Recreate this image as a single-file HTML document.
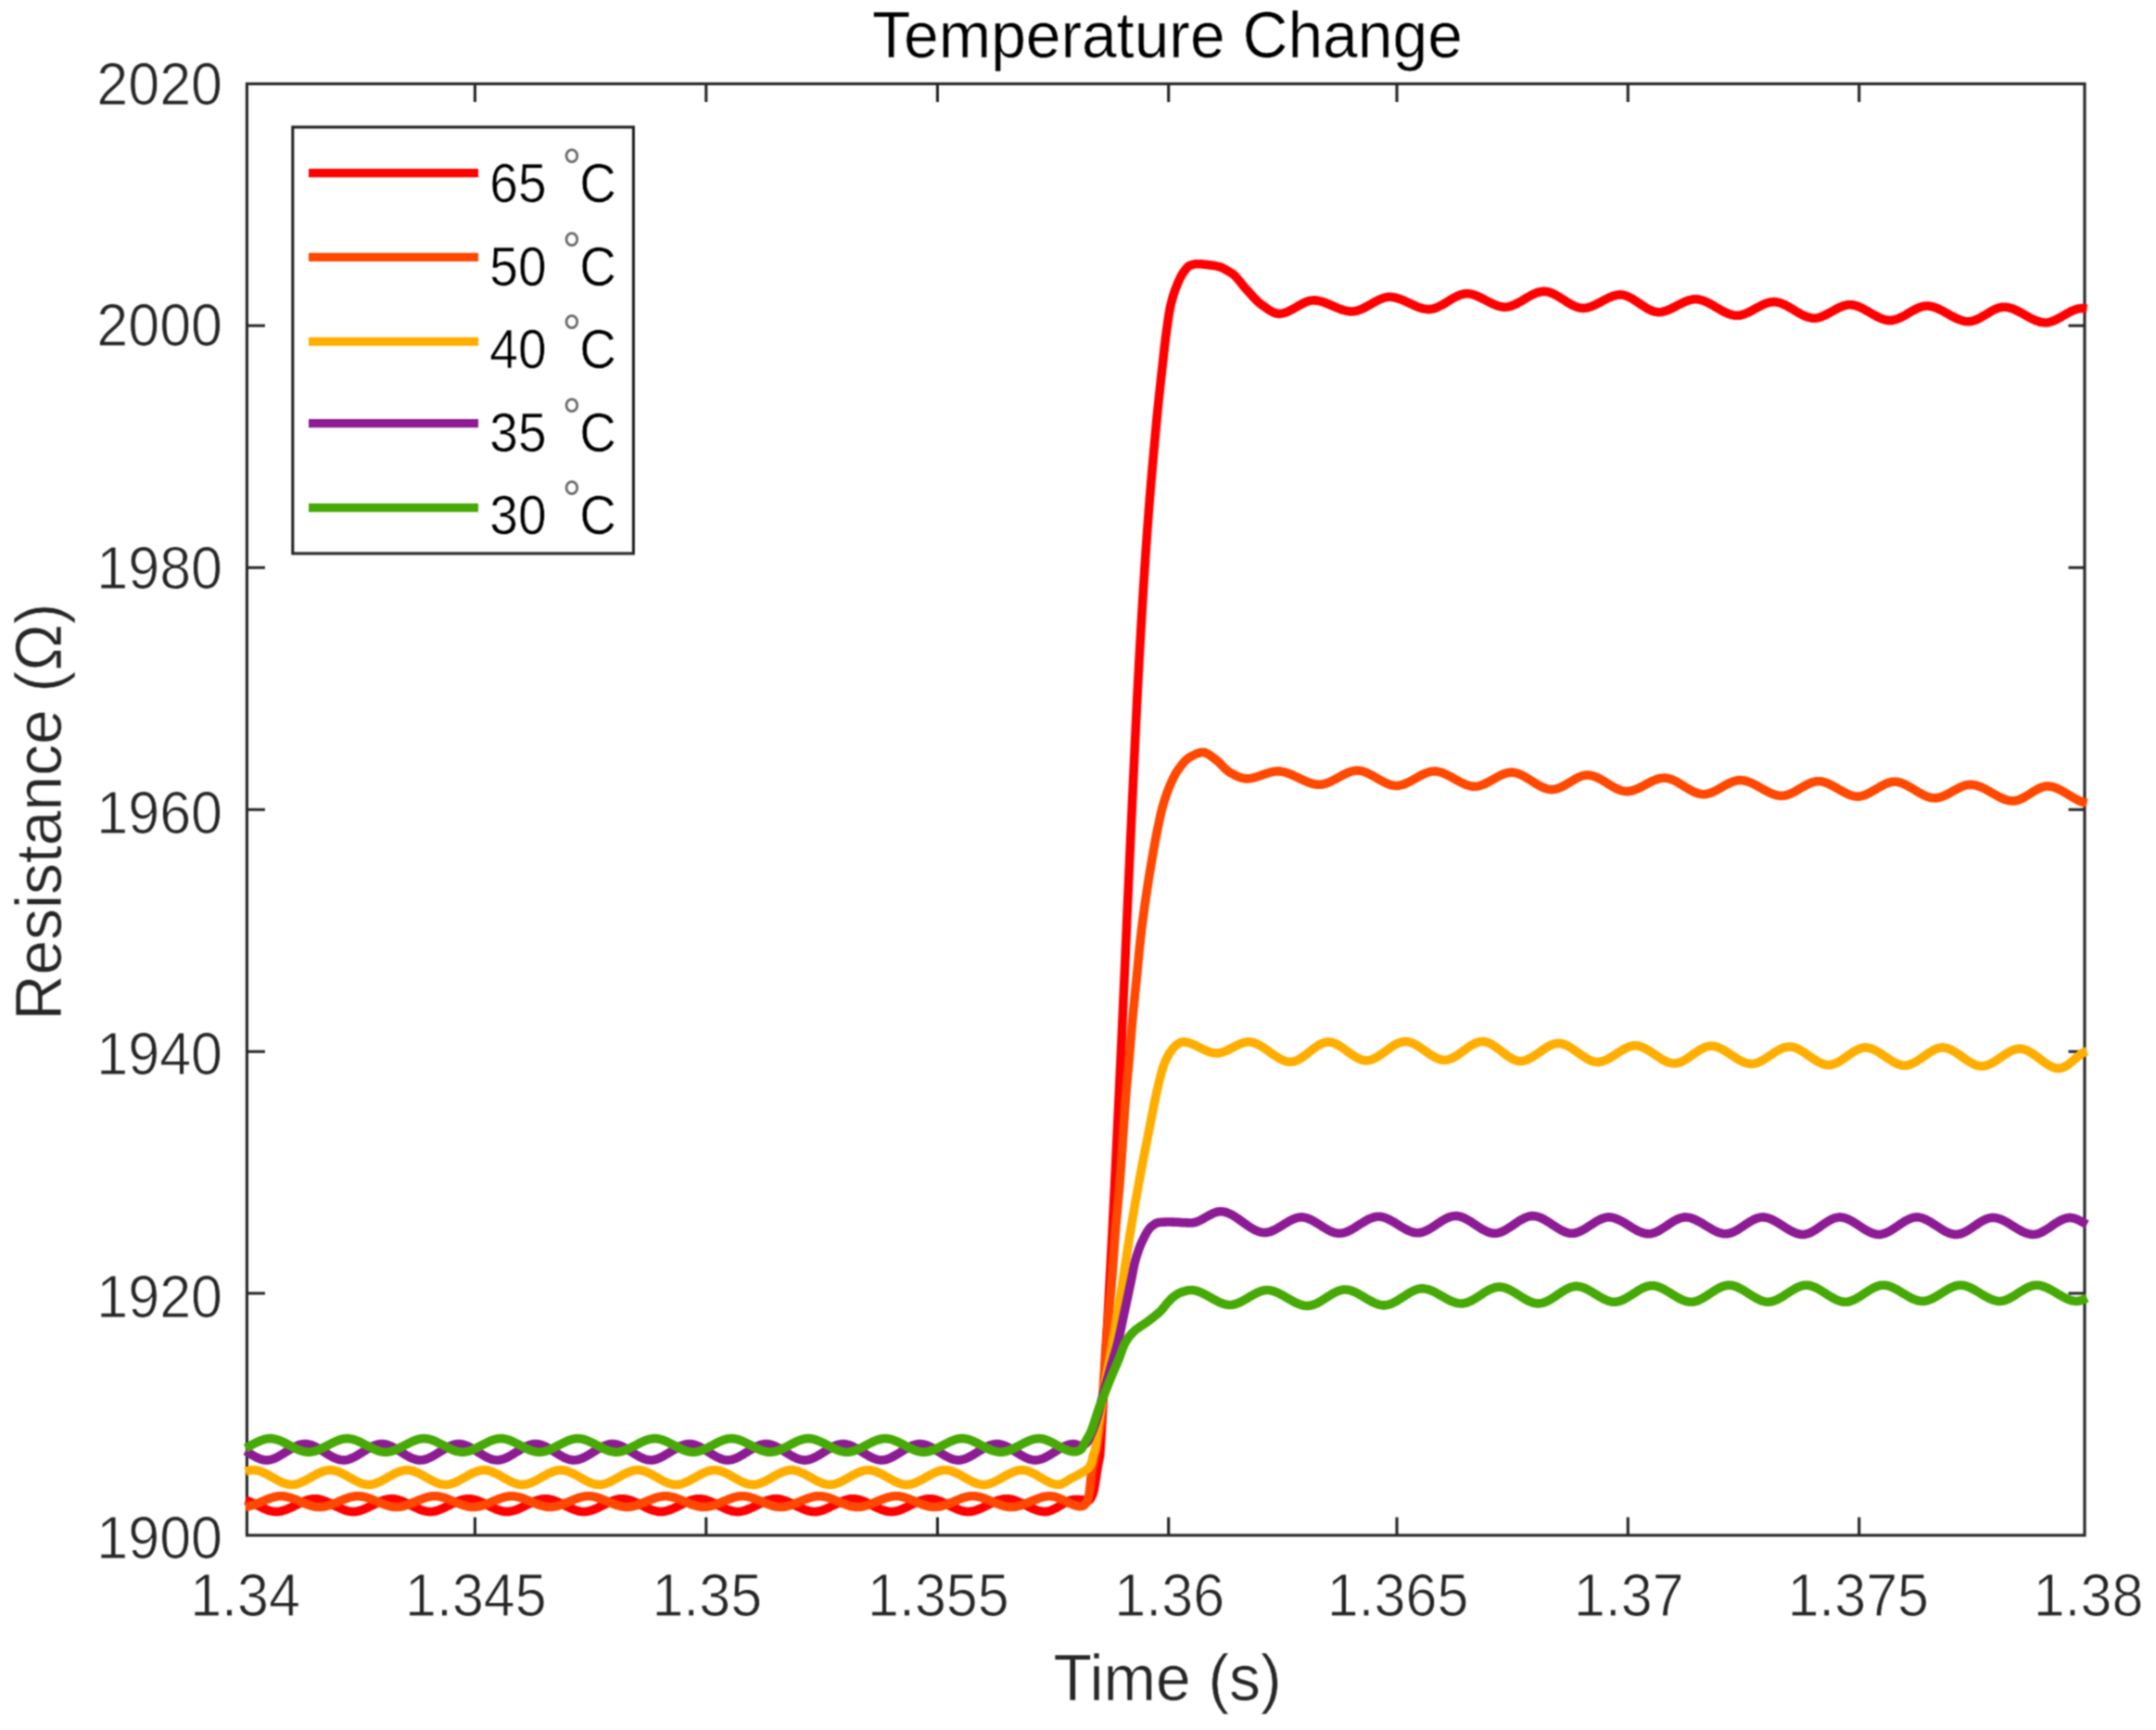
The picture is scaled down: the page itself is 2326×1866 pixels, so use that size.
<!DOCTYPE html>
<html lang="en"><head><meta charset="utf-8"><title>Temperature Change</title>
<style>
html,body{margin:0;padding:0;background:#fff;}
body{width:2326px;height:1866px;overflow:hidden;}
svg{display:block;}
text{font-family:"Liberation Sans",Arial,Helvetica,sans-serif;fill:#262626;stroke:#fff;stroke-width:0.9px;}
.tk{font-size:61px;}
.lb{font-size:67.8px;stroke-width:0.6px;}
.lg{font-size:55px;fill:#000;stroke-width:0.6px;}
.dg{font-size:52px;fill:#6a6a6a;stroke:none;}
</style></head><body>
<svg width="2326" height="1866" viewBox="0 0 2326 1866">
<defs><filter id="soft" x="0" y="0" width="2326" height="1866" filterUnits="userSpaceOnUse" color-interpolation-filters="sRGB"><feConvolveMatrix order="3" kernelMatrix="1 2 1 2 4 2 1 2 1" divisor="16" edgeMode="duplicate" preserveAlpha="false"/></filter></defs>
<g filter="url(#soft)">
<rect width="2326" height="1866" fill="#fff"/>
<g stroke="#262626" stroke-width="3.1" fill="none" stroke-linecap="butt">
<rect x="266.4" y="90.4" width="1982.6" height="1565.6"/>
<path d="M512.4,1656.0 v-19.5 M512.4,90.4 v19.5"/>
<path d="M761.8,1656.0 v-19.5 M761.8,90.4 v19.5"/>
<path d="M1011.4,1656.0 v-19.5 M1011.4,90.4 v19.5"/>
<path d="M1260.7,1656.0 v-19.5 M1260.7,90.4 v19.5"/>
<path d="M1507.0,1656.0 v-19.5 M1507.0,90.4 v19.5"/>
<path d="M1756.3,1656.0 v-19.5 M1756.3,90.4 v19.5"/>
<path d="M2005.7,1656.0 v-19.5 M2005.7,90.4 v19.5"/>
<path d="M266.4,351.3 h19.5 M2249.0,351.3 h-17.5"/>
<path d="M266.4,612.3 h19.5 M2249.0,612.3 h-17.5"/>
<path d="M266.4,873.3 h19.5 M2249.0,873.3 h-17.5"/>
<path d="M266.4,1134.2 h19.5 M2249.0,1134.2 h-17.5"/>
<path d="M266.4,1395.0 h19.5 M2249.0,1395.0 h-17.5"/>
</g>
<g fill="none" stroke-width="9.6" stroke-linejoin="round" stroke-linecap="butt">
<path stroke="#ff0000" d="M264.9,1618.1 L266.9,1618.8 L268.9,1619.6 L270.9,1620.5 L272.9,1621.4 L274.9,1622.4 L276.9,1623.3 L278.9,1624.3 L280.9,1625.3 L282.9,1626.3 L284.9,1627.2 L286.9,1628.0 L288.9,1628.8 L290.9,1629.4 L292.9,1629.9 L294.9,1630.3 L296.9,1630.5 L298.9,1630.5 L300.9,1630.3 L302.9,1630.0 L304.9,1629.5 L306.9,1628.9 L308.9,1628.2 L310.9,1627.4 L312.9,1626.5 L314.9,1625.6 L316.9,1624.6 L318.9,1623.6 L320.9,1622.6 L322.9,1621.6 L324.9,1620.7 L326.9,1619.8 L328.9,1619.0 L330.9,1618.3 L332.9,1617.7 L334.9,1617.2 L336.9,1616.9 L338.9,1616.7 L340.9,1616.7 L342.9,1616.9 L344.9,1617.3 L346.9,1617.8 L348.9,1618.5 L350.9,1619.2 L352.9,1620.0 L354.9,1621.0 L356.9,1621.9 L358.9,1622.9 L360.9,1623.9 L362.9,1624.9 L364.9,1625.8 L366.9,1626.8 L368.9,1627.6 L370.9,1628.4 L372.9,1629.1 L374.9,1629.7 L376.9,1630.1 L378.9,1630.4 L380.9,1630.5 L382.9,1630.4 L384.9,1630.2 L386.9,1629.8 L388.9,1629.2 L390.9,1628.5 L392.9,1627.8 L394.9,1626.9 L396.9,1626.0 L398.9,1625.0 L400.9,1624.0 L402.9,1623.1 L404.9,1622.1 L406.9,1621.1 L408.9,1620.2 L410.9,1619.3 L412.9,1618.6 L414.9,1617.9 L416.9,1617.4 L418.9,1617.0 L420.9,1616.8 L422.9,1616.7 L424.9,1616.8 L426.9,1617.1 L428.9,1617.6 L430.9,1618.2 L432.9,1618.9 L434.9,1619.7 L436.9,1620.5 L438.9,1621.5 L440.9,1622.4 L442.9,1623.4 L444.9,1624.4 L446.9,1625.4 L448.9,1626.3 L450.9,1627.2 L452.9,1628.1 L454.9,1628.8 L456.9,1629.4 L458.9,1629.9 L460.9,1630.3 L462.9,1630.5 L464.9,1630.5 L466.9,1630.3 L468.9,1630.0 L470.9,1629.5 L472.9,1628.9 L474.9,1628.1 L476.9,1627.3 L478.9,1626.4 L480.9,1625.5 L482.9,1624.5 L484.9,1623.5 L486.9,1622.5 L488.9,1621.5 L490.9,1620.6 L492.9,1619.7 L494.9,1618.9 L496.9,1618.2 L498.9,1617.6 L500.9,1617.2 L502.9,1616.9 L504.9,1616.7 L506.9,1616.7 L508.9,1617.0 L510.9,1617.4 L512.9,1617.9 L514.9,1618.5 L516.9,1619.3 L518.9,1620.1 L520.9,1621.0 L522.9,1622.0 L524.9,1623.0 L526.9,1624.0 L528.9,1624.9 L530.9,1625.9 L532.9,1626.8 L534.9,1627.7 L536.9,1628.5 L538.9,1629.1 L540.9,1629.7 L542.9,1630.1 L544.9,1630.4 L546.9,1630.5 L548.9,1630.4 L550.9,1630.1 L552.9,1629.7 L554.9,1629.2 L556.9,1628.5 L558.9,1627.7 L560.9,1626.9 L562.9,1625.9 L564.9,1625.0 L566.9,1624.0 L568.9,1623.0 L570.9,1622.0 L572.9,1621.0 L574.9,1620.1 L576.9,1619.3 L578.9,1618.5 L580.9,1617.9 L582.9,1617.4 L584.9,1617.0 L586.9,1616.8 L588.9,1616.7 L590.9,1616.8 L592.9,1617.2 L594.9,1617.6 L596.9,1618.2 L598.9,1618.9 L600.9,1619.7 L602.9,1620.6 L604.9,1621.5 L606.9,1622.5 L608.9,1623.5 L610.9,1624.5 L612.9,1625.5 L614.9,1626.4 L616.9,1627.3 L618.9,1628.1 L620.9,1628.8 L622.9,1629.5 L624.9,1630.0 L626.9,1630.3 L628.9,1630.5 L630.9,1630.5 L632.9,1630.3 L634.9,1629.9 L636.9,1629.4 L638.9,1628.8 L640.9,1628.1 L642.9,1627.3 L644.9,1626.4 L646.9,1625.4 L648.9,1624.4 L650.9,1623.4 L652.9,1622.5 L654.9,1621.5 L656.9,1620.5 L658.9,1619.7 L660.9,1618.9 L662.9,1618.2 L664.9,1617.6 L666.9,1617.1 L668.9,1616.8 L670.9,1616.7 L672.9,1616.8 L674.9,1617.0 L676.9,1617.4 L678.9,1617.9 L680.9,1618.6 L682.9,1619.3 L684.9,1620.2 L686.9,1621.1 L688.9,1622.0 L690.9,1623.0 L692.9,1624.0 L694.9,1625.0 L696.9,1626.0 L698.9,1626.9 L700.9,1627.7 L702.9,1628.5 L704.9,1629.2 L706.9,1629.7 L708.9,1630.2 L710.9,1630.4 L712.9,1630.5 L714.9,1630.4 L716.9,1630.1 L718.9,1629.7 L720.9,1629.1 L722.9,1628.4 L724.9,1627.7 L726.9,1626.8 L728.9,1625.9 L730.9,1624.9 L732.9,1623.9 L734.9,1622.9 L736.9,1621.9 L738.9,1621.0 L740.9,1620.1 L742.9,1619.2 L744.9,1618.5 L746.9,1617.8 L748.9,1617.3 L750.9,1617.0 L752.9,1616.7 L754.9,1616.7 L756.9,1616.9 L758.9,1617.2 L760.9,1617.7 L762.9,1618.3 L764.9,1619.0 L766.9,1619.8 L768.9,1620.7 L770.9,1621.6 L772.9,1622.6 L774.9,1623.6 L776.9,1624.6 L778.9,1625.5 L780.9,1626.5 L782.9,1627.4 L784.9,1628.2 L786.9,1628.9 L788.9,1629.5 L790.9,1630.0 L792.9,1630.3 L794.9,1630.5 L796.9,1630.5 L798.9,1630.3 L800.9,1629.9 L802.9,1629.4 L804.9,1628.8 L806.9,1628.0 L808.9,1627.2 L810.9,1626.3 L812.9,1625.4 L814.9,1624.4 L816.9,1623.4 L818.9,1622.4 L820.9,1621.4 L822.9,1620.5 L824.9,1619.6 L826.9,1618.8 L828.9,1618.1 L830.9,1617.6 L832.9,1617.1 L834.9,1616.8 L836.9,1616.7 L838.9,1616.8 L840.9,1617.0 L842.9,1617.4 L844.9,1618.0 L846.9,1618.6 L848.9,1619.4 L850.9,1620.2 L852.9,1621.1 L854.9,1622.1 L856.9,1623.1 L858.9,1624.1 L860.9,1625.1 L862.9,1626.0 L864.9,1627.0 L866.9,1627.8 L868.9,1628.6 L870.9,1629.2 L872.9,1629.8 L874.9,1630.2 L876.9,1630.4 L878.9,1630.5 L880.9,1630.4 L882.9,1630.1 L884.9,1629.7 L886.9,1629.1 L888.9,1628.4 L890.9,1627.6 L892.9,1626.7 L894.9,1625.8 L896.9,1624.8 L898.9,1623.8 L900.9,1622.8 L902.9,1621.9 L904.9,1620.9 L906.9,1620.0 L908.9,1619.2 L910.9,1618.4 L912.9,1617.8 L914.9,1617.3 L916.9,1616.9 L918.9,1616.7 L920.9,1616.7 L922.9,1616.9 L924.9,1617.2 L926.9,1617.7 L928.9,1618.3 L930.9,1619.0 L932.9,1619.8 L934.9,1620.7 L936.9,1621.7 L938.9,1622.6 L940.9,1623.6 L942.9,1624.6 L944.9,1625.6 L946.9,1626.5 L948.9,1627.4 L950.9,1628.2 L952.9,1628.9 L954.9,1629.5 L956.9,1630.0 L958.9,1630.3 L960.9,1630.5 L962.9,1630.5 L964.9,1630.2 L966.9,1629.9 L968.9,1629.4 L970.9,1628.7 L972.9,1628.0 L974.9,1627.1 L976.9,1626.2 L978.9,1625.3 L980.9,1624.3 L982.9,1623.3 L984.9,1622.3 L986.9,1621.3 L988.9,1620.4 L990.9,1619.6 L992.9,1618.8 L994.9,1618.1 L996.9,1617.5 L998.9,1617.1 L1000.9,1616.8 L1002.9,1616.7 L1004.9,1616.8 L1006.9,1617.0 L1008.9,1617.4 L1010.9,1618.0 L1012.9,1618.7 L1014.9,1619.4 L1016.9,1620.3 L1018.9,1621.2 L1020.9,1622.2 L1022.9,1623.2 L1024.9,1624.2 L1026.9,1625.1 L1028.9,1626.1 L1030.9,1627.0 L1032.9,1627.9 L1034.9,1628.6 L1036.9,1629.3 L1038.9,1629.8 L1040.9,1630.2 L1042.9,1630.4 L1044.9,1630.5 L1046.9,1630.4 L1048.9,1630.1 L1050.9,1629.6 L1052.9,1629.0 L1054.9,1628.3 L1056.9,1627.5 L1058.9,1626.7 L1060.9,1625.7 L1062.9,1624.8 L1064.9,1623.8 L1066.9,1622.8 L1068.9,1621.8 L1070.9,1620.8 L1072.9,1619.9 L1074.9,1619.1 L1076.9,1618.4 L1078.9,1617.8 L1080.9,1617.3 L1082.9,1616.9 L1084.9,1616.7 L1086.9,1616.7 L1088.9,1616.9 L1090.9,1617.2 L1092.9,1617.7 L1094.9,1618.3 L1096.9,1619.1 L1098.9,1619.9 L1100.9,1620.8 L1102.9,1621.7 L1104.9,1622.7 L1106.9,1623.7 L1108.9,1624.7 L1110.9,1625.7 L1112.9,1626.6 L1114.9,1627.5 L1116.9,1628.3 L1118.9,1629.0 L1120.9,1629.6 L1122.9,1630.0 L1124.9,1630.4 L1126.9,1630.5 L1128.9,1630.4 L1130.9,1630.1 L1132.9,1629.5 L1134.9,1628.8 L1136.9,1627.8 L1138.9,1626.8 L1140.9,1625.7 L1142.9,1624.5 L1144.9,1623.3 L1146.9,1622.1 L1148.9,1621.0 L1150.0,1620.4 L1150.5,1620.2 L1151.0,1619.9 L1151.5,1619.7 L1152.0,1619.5 L1152.5,1619.3 L1153.0,1619.0 L1153.5,1618.8 L1154.0,1618.7 L1154.5,1618.5 L1155.0,1618.3 L1155.5,1618.2 L1156.0,1618.0 L1156.5,1617.9 L1157.0,1617.8 L1157.5,1617.7 L1158.0,1617.6 L1158.5,1617.6 L1159.0,1617.5 L1159.5,1617.5 L1160.0,1617.5 L1160.5,1617.5 L1161.0,1617.5 L1161.5,1617.5 L1162.0,1617.5 L1162.5,1617.5 L1163.0,1617.6 L1163.5,1617.6 L1164.0,1617.6 L1164.5,1617.6 L1165.0,1617.6 L1165.5,1617.7 L1166.0,1617.7 L1166.5,1617.7 L1167.0,1617.7 L1167.5,1617.8 L1168.0,1617.8 L1168.5,1617.8 L1169.0,1617.9 L1169.5,1618.0 L1170.0,1618.0 L1170.5,1618.1 L1171.0,1618.2 L1171.5,1618.3 L1172.0,1618.3 L1172.5,1618.4 L1173.0,1618.5 L1173.5,1618.5 L1174.0,1618.5 L1174.5,1618.4 L1175.0,1618.1 L1175.5,1617.7 L1176.0,1617.1 L1176.5,1616.4 L1177.0,1615.6 L1177.5,1614.7 L1178.0,1613.7 L1178.5,1612.6 L1179.0,1611.4 L1179.5,1610.0 L1180.0,1607.7 L1180.5,1605.1 L1181.0,1602.4 L1181.5,1599.6 L1182.0,1596.5 L1182.5,1593.3 L1183.0,1590.2 L1183.5,1587.1 L1184.0,1583.9 L1184.5,1580.9 L1185.0,1578.0 L1185.5,1575.7 L1186.0,1573.6 L1186.5,1570.7 L1187.0,1565.1 L1187.5,1556.6 L1188.0,1548.5 L1188.5,1540.1 L1189.0,1531.5 L1189.5,1522.5 L1190.0,1513.5 L1190.5,1504.9 L1191.0,1496.7 L1191.5,1488.6 L1192.0,1480.0 L1192.5,1470.8 L1193.0,1461.2 L1193.5,1451.5 L1194.0,1441.9 L1194.5,1432.5 L1195.0,1423.2 L1195.5,1414.0 L1196.0,1404.8 L1196.5,1395.6 L1197.0,1386.3 L1197.5,1377.0 L1198.0,1367.7 L1198.5,1358.4 L1199.0,1349.1 L1199.5,1339.6 L1200.0,1330.0 L1200.5,1320.3 L1201.0,1310.4 L1201.5,1300.4 L1202.0,1290.3 L1202.5,1280.2 L1203.0,1270.0 L1203.5,1259.7 L1204.0,1249.4 L1204.5,1239.0 L1205.0,1228.6 L1205.5,1218.1 L1206.0,1207.6 L1206.5,1197.0 L1207.0,1186.4 L1207.5,1175.7 L1208.0,1165.1 L1208.5,1154.3 L1209.0,1143.5 L1209.5,1132.7 L1210.0,1121.9 L1210.5,1110.9 L1211.0,1100.0 L1211.5,1089.0 L1212.0,1078.0 L1212.5,1066.9 L1213.0,1055.8 L1213.5,1044.5 L1214.0,1033.2 L1214.5,1021.6 L1215.0,1010.0 L1215.5,998.4 L1216.0,986.8 L1216.5,975.5 L1217.0,964.2 L1217.5,953.1 L1218.0,942.0 L1218.5,931.0 L1219.0,920.0 L1219.5,909.1 L1220.0,898.2 L1220.5,887.4 L1221.0,876.6 L1221.5,865.8 L1222.0,855.1 L1222.5,844.3 L1223.0,833.5 L1223.5,822.7 L1224.0,812.0 L1224.5,801.3 L1225.0,790.8 L1225.5,780.4 L1226.0,770.1 L1226.5,759.9 L1227.0,750.0 L1227.5,740.3 L1228.0,730.8 L1228.5,721.4 L1229.0,712.2 L1229.5,703.2 L1230.0,694.3 L1230.5,685.5 L1231.0,676.9 L1231.5,668.4 L1232.0,660.0 L1232.5,651.8 L1233.0,643.6 L1233.5,635.6 L1234.0,627.8 L1234.5,620.0 L1235.0,612.3 L1235.5,604.8 L1236.0,597.3 L1236.5,590.0 L1237.0,582.8 L1237.5,575.8 L1238.0,568.9 L1238.5,562.1 L1239.0,555.5 L1239.5,548.9 L1240.0,542.5 L1240.5,536.2 L1241.0,530.1 L1241.5,524.1 L1242.0,518.2 L1242.5,512.5 L1243.0,506.8 L1243.5,501.2 L1244.0,495.6 L1244.5,490.0 L1245.0,484.5 L1245.5,478.9 L1246.0,473.4 L1246.5,468.0 L1247.0,462.6 L1247.5,457.3 L1248.0,452.1 L1248.5,447.0 L1249.0,442.0 L1249.5,437.1 L1250.0,432.3 L1250.5,427.5 L1251.0,422.8 L1251.5,418.2 L1252.0,413.6 L1252.5,409.0 L1253.0,404.5 L1253.5,400.0 L1254.0,395.5 L1254.5,390.9 L1255.0,386.3 L1255.5,381.7 L1256.0,377.3 L1256.5,372.9 L1257.0,368.7 L1257.5,364.6 L1258.0,360.7 L1258.5,357.1 L1259.0,353.4 L1259.5,349.8 L1260.0,346.3 L1260.5,342.9 L1261.0,339.7 L1261.5,336.7 L1262.0,333.9 L1262.5,331.4 L1263.0,329.1 L1263.5,327.1 L1264.0,325.1 L1264.5,323.2 L1265.0,321.4 L1265.5,319.7 L1266.0,318.1 L1266.5,316.5 L1267.0,315.0 L1267.5,313.6 L1268.0,312.2 L1268.5,310.9 L1269.0,309.6 L1269.5,308.3 L1270.0,307.1 L1270.5,305.9 L1271.0,304.7 L1271.5,303.6 L1272.0,302.4 L1272.5,301.3 L1273.0,300.3 L1273.5,299.3 L1274.0,298.3 L1274.5,297.4 L1275.0,296.5 L1275.5,295.6 L1276.0,294.9 L1276.5,294.1 L1277.0,293.4 L1277.5,292.8 L1278.0,292.1 L1278.5,291.4 L1279.0,290.8 L1279.5,290.1 L1280.0,289.5 L1280.5,289.0 L1281.0,288.4 L1281.5,287.9 L1282.0,287.5 L1282.5,287.1 L1283.0,286.7 L1283.5,286.5 L1284.0,286.2 L1284.5,286.1 L1285.0,285.9 L1285.5,285.8 L1286.0,285.6 L1286.5,285.5 L1287.0,285.3 L1287.5,285.2 L1288.0,285.1 L1288.5,285.0 L1289.0,284.9 L1289.5,284.8 L1290.0,284.8 L1290.5,284.7 L1291.0,284.7 L1291.5,284.7 L1292.0,284.7 L1292.5,284.7 L1293.0,284.7 L1293.5,284.7 L1294.0,284.8 L1294.5,284.8 L1295.0,284.8 L1295.5,284.8 L1296.0,284.9 L1296.5,284.9 L1297.0,284.9 L1297.5,285.0 L1298.0,285.0 L1298.5,285.1 L1299.0,285.1 L1299.5,285.2 L1300.0,285.2 L1302.0,285.4 L1304.0,285.7 L1306.0,285.9 L1308.0,286.2 L1310.0,286.5 L1312.0,286.9 L1314.0,287.4 L1316.0,287.9 L1318.0,288.6 L1320.0,289.6 L1322.0,290.7 L1324.0,291.9 L1326.0,293.0 L1328.0,294.1 L1330.0,295.5 L1332.0,297.2 L1334.0,299.3 L1336.0,301.6 L1338.0,304.0 L1340.0,306.6 L1342.0,309.1 L1344.0,311.4 L1346.0,313.6 L1348.0,315.8 L1350.0,318.0 L1352.0,320.2 L1354.0,322.4 L1356.0,324.4 L1358.0,326.2 L1360.0,327.9 L1362.0,329.3 L1364.0,330.7 L1366.0,332.2 L1368.0,333.6 L1370.0,334.9 L1372.0,336.0 L1374.0,337.0 L1376.0,337.8 L1378.0,338.2 L1380.0,338.4 L1382.0,338.3 L1384.0,337.9 L1386.0,337.4 L1388.0,336.7 L1390.0,335.8 L1392.0,334.8 L1394.0,333.8 L1396.0,332.7 L1398.0,331.5 L1400.0,330.3 L1402.0,329.2 L1404.0,328.1 L1406.0,327.1 L1408.0,326.1 L1410.0,325.3 L1412.0,324.7 L1414.0,324.2 L1416.0,324.0 L1418.0,323.9 L1420.0,324.1 L1422.0,324.3 L1424.0,324.8 L1426.0,325.3 L1428.0,325.9 L1430.0,326.7 L1432.0,327.5 L1434.0,328.3 L1436.0,329.2 L1438.0,330.0 L1440.0,330.9 L1442.0,331.8 L1444.0,332.6 L1446.0,333.4 L1448.0,334.1 L1450.0,334.7 L1452.0,335.2 L1454.0,335.6 L1456.0,335.9 L1458.0,336.0 L1460.0,335.9 L1462.0,335.6 L1464.0,335.2 L1466.0,334.5 L1468.0,333.8 L1470.0,332.9 L1472.0,331.9 L1474.0,330.9 L1476.0,329.7 L1478.0,328.6 L1480.0,327.5 L1482.0,326.3 L1484.0,325.2 L1486.0,324.2 L1488.0,323.2 L1490.0,322.4 L1492.0,321.6 L1494.0,321.0 L1496.0,320.6 L1498.0,320.3 L1500.0,320.3 L1502.0,320.5 L1504.0,320.8 L1506.0,321.2 L1508.0,321.8 L1510.0,322.4 L1512.0,323.2 L1514.0,324.0 L1516.0,324.9 L1518.0,325.8 L1520.0,326.8 L1522.0,327.7 L1524.0,328.6 L1526.0,329.5 L1528.0,330.4 L1530.0,331.2 L1532.0,331.9 L1534.0,332.5 L1536.0,333.0 L1538.0,333.3 L1540.0,333.6 L1542.0,333.6 L1544.0,333.4 L1546.0,333.0 L1548.0,332.5 L1550.0,331.7 L1552.0,330.8 L1554.0,329.8 L1556.0,328.8 L1558.0,327.6 L1560.0,326.4 L1562.0,325.2 L1564.0,323.9 L1566.0,322.7 L1568.0,321.5 L1570.0,320.5 L1572.0,319.5 L1574.0,318.6 L1576.0,317.8 L1578.0,317.3 L1580.0,316.9 L1582.0,316.7 L1584.0,316.8 L1586.0,317.0 L1588.0,317.4 L1590.0,318.0 L1592.0,318.7 L1594.0,319.5 L1596.0,320.4 L1598.0,321.4 L1600.0,322.4 L1602.0,323.4 L1604.0,324.5 L1606.0,325.5 L1608.0,326.5 L1610.0,327.5 L1612.0,328.4 L1614.0,329.2 L1616.0,329.9 L1618.0,330.5 L1620.0,330.9 L1622.0,331.1 L1624.0,331.2 L1626.0,331.0 L1628.0,330.7 L1630.0,330.1 L1632.0,329.4 L1634.0,328.6 L1636.0,327.6 L1638.0,326.6 L1640.0,325.5 L1642.0,324.3 L1644.0,323.1 L1646.0,321.9 L1648.0,320.7 L1650.0,319.6 L1652.0,318.5 L1654.0,317.5 L1656.0,316.6 L1658.0,315.8 L1660.0,315.1 L1662.0,314.7 L1664.0,314.4 L1666.0,314.3 L1668.0,314.5 L1670.0,314.8 L1672.0,315.4 L1674.0,316.1 L1676.0,317.0 L1678.0,318.0 L1680.0,319.1 L1682.0,320.3 L1684.0,321.6 L1686.0,322.8 L1688.0,324.1 L1690.0,325.4 L1692.0,326.6 L1694.0,327.8 L1696.0,328.9 L1698.0,329.9 L1700.0,330.7 L1702.0,331.4 L1704.0,332.0 L1706.0,332.3 L1708.0,332.4 L1710.0,332.3 L1712.0,332.0 L1714.0,331.5 L1716.0,330.9 L1718.0,330.1 L1720.0,329.2 L1722.0,328.3 L1724.0,327.3 L1726.0,326.2 L1728.0,325.1 L1730.0,324.0 L1732.0,323.0 L1734.0,322.0 L1736.0,321.0 L1738.0,320.2 L1740.0,319.4 L1742.0,318.8 L1744.0,318.3 L1746.0,318.0 L1748.0,317.9 L1750.0,318.0 L1752.0,318.4 L1754.0,319.0 L1756.0,319.7 L1758.0,320.7 L1760.0,321.7 L1762.0,322.9 L1764.0,324.2 L1766.0,325.5 L1768.0,326.8 L1770.0,328.2 L1772.0,329.5 L1774.0,330.8 L1776.0,332.1 L1778.0,333.2 L1780.0,334.2 L1782.0,335.1 L1784.0,335.8 L1786.0,336.3 L1788.0,336.6 L1790.0,336.7 L1792.0,336.5 L1794.0,336.2 L1796.0,335.7 L1798.0,335.0 L1800.0,334.2 L1802.0,333.4 L1804.0,332.4 L1806.0,331.4 L1808.0,330.4 L1810.0,329.3 L1812.0,328.3 L1814.0,327.3 L1816.0,326.3 L1818.0,325.4 L1820.0,324.6 L1822.0,323.9 L1824.0,323.4 L1826.0,323.0 L1828.0,322.7 L1830.0,322.7 L1832.0,322.9 L1834.0,323.3 L1836.0,323.8 L1838.0,324.5 L1840.0,325.3 L1842.0,326.2 L1844.0,327.2 L1846.0,328.3 L1848.0,329.4 L1850.0,330.6 L1852.0,331.8 L1854.0,332.9 L1856.0,334.1 L1858.0,335.2 L1860.0,336.3 L1862.0,337.2 L1864.0,338.1 L1866.0,338.8 L1868.0,339.5 L1870.0,339.9 L1872.0,340.2 L1874.0,340.3 L1876.0,340.2 L1878.0,339.9 L1880.0,339.4 L1882.0,338.7 L1884.0,337.9 L1886.0,337.1 L1888.0,336.1 L1890.0,335.0 L1892.0,333.9 L1894.0,332.8 L1896.0,331.7 L1898.0,330.7 L1900.0,329.6 L1902.0,328.7 L1904.0,327.8 L1906.0,327.0 L1908.0,326.4 L1910.0,326.0 L1912.0,325.7 L1914.0,325.6 L1916.0,325.7 L1918.0,326.1 L1920.0,326.6 L1922.0,327.3 L1924.0,328.1 L1926.0,329.0 L1928.0,330.1 L1930.0,331.2 L1932.0,332.3 L1934.0,333.5 L1936.0,334.8 L1938.0,336.0 L1940.0,337.2 L1942.0,338.3 L1944.0,339.4 L1946.0,340.3 L1948.0,341.2 L1950.0,341.9 L1952.0,342.5 L1954.0,342.9 L1956.0,343.2 L1958.0,343.2 L1960.0,343.0 L1962.0,342.6 L1964.0,342.0 L1966.0,341.2 L1968.0,340.4 L1970.0,339.4 L1972.0,338.4 L1974.0,337.3 L1976.0,336.2 L1978.0,335.1 L1980.0,333.9 L1982.0,332.9 L1984.0,331.9 L1986.0,331.0 L1988.0,330.2 L1990.0,329.6 L1992.0,329.1 L1994.0,328.8 L1996.0,328.7 L1998.0,328.8 L2000.0,329.2 L2002.0,329.7 L2004.0,330.3 L2006.0,331.1 L2008.0,332.0 L2010.0,333.0 L2012.0,334.1 L2014.0,335.2 L2016.0,336.3 L2018.0,337.5 L2020.0,338.7 L2022.0,339.8 L2024.0,340.9 L2026.0,341.9 L2028.0,342.8 L2030.0,343.7 L2032.0,344.4 L2034.0,345.0 L2036.0,345.4 L2038.0,345.6 L2040.0,345.6 L2042.0,345.4 L2044.0,344.9 L2046.0,344.4 L2048.0,343.6 L2050.0,342.7 L2052.0,341.7 L2054.0,340.7 L2056.0,339.6 L2058.0,338.4 L2060.0,337.2 L2062.0,336.0 L2064.0,334.9 L2066.0,333.9 L2068.0,332.9 L2070.0,332.0 L2072.0,331.2 L2074.0,330.7 L2076.0,330.2 L2078.0,330.0 L2080.0,330.0 L2082.0,330.2 L2084.0,330.6 L2086.0,331.1 L2088.0,331.8 L2090.0,332.6 L2092.0,333.5 L2094.0,334.5 L2096.0,335.5 L2098.0,336.6 L2100.0,337.7 L2102.0,338.9 L2104.0,340.0 L2106.0,341.1 L2108.0,342.1 L2110.0,343.1 L2112.0,344.0 L2114.0,344.8 L2116.0,345.5 L2118.0,346.1 L2120.0,346.5 L2122.0,346.7 L2124.0,346.8 L2126.0,346.6 L2128.0,346.2 L2130.0,345.6 L2132.0,344.9 L2134.0,344.0 L2136.0,343.0 L2138.0,341.8 L2140.0,340.7 L2142.0,339.5 L2144.0,338.3 L2146.0,337.1 L2148.0,335.9 L2150.0,334.8 L2152.0,333.8 L2154.0,333.0 L2156.0,332.2 L2158.0,331.7 L2160.0,331.3 L2162.0,331.2 L2164.0,331.3 L2166.0,331.6 L2168.0,332.0 L2170.0,332.6 L2172.0,333.3 L2174.0,334.1 L2176.0,335.1 L2178.0,336.1 L2180.0,337.1 L2182.0,338.2 L2184.0,339.4 L2186.0,340.5 L2188.0,341.6 L2190.0,342.7 L2192.0,343.7 L2194.0,344.7 L2196.0,345.6 L2198.0,346.3 L2200.0,347.0 L2202.0,347.5 L2204.0,347.8 L2206.0,348.0 L2208.0,348.0 L2210.0,347.7 L2212.0,347.2 L2214.0,346.6 L2216.0,345.8 L2218.0,344.9 L2220.0,343.9 L2222.0,342.8 L2224.0,341.7 L2226.0,340.5 L2228.0,339.3 L2230.0,338.2 L2232.0,337.1 L2234.0,336.0 L2236.0,335.1 L2238.0,334.3 L2240.0,333.6 L2242.0,333.0 L2244.0,332.7 L2246.0,332.6 L2248.0,332.7 L2250.0,332.9 L2251.5,333.1"/>
<path stroke="#ff4800" d="M264.9,1625.3 L266.9,1625.0 L268.9,1624.6 L270.9,1624.0 L272.9,1623.4 L274.9,1622.7 L276.9,1621.9 L278.9,1621.1 L280.9,1620.3 L282.9,1619.4 L284.9,1618.6 L286.9,1617.7 L288.9,1616.9 L290.9,1616.2 L292.9,1615.5 L294.9,1614.9 L296.9,1614.4 L298.9,1614.1 L300.9,1613.8 L302.9,1613.7 L304.9,1613.8 L306.9,1614.0 L308.9,1614.3 L310.9,1614.8 L312.9,1615.3 L314.9,1616.0 L316.9,1616.7 L318.9,1617.5 L320.9,1618.3 L322.9,1619.2 L324.9,1620.0 L326.9,1620.9 L328.9,1621.7 L330.9,1622.5 L332.9,1623.2 L334.9,1623.8 L336.9,1624.4 L338.9,1624.9 L340.9,1625.2 L342.9,1625.4 L344.9,1625.5 L346.9,1625.4 L348.9,1625.2 L350.9,1624.8 L352.9,1624.3 L354.9,1623.7 L356.9,1623.0 L358.9,1622.3 L360.9,1621.5 L362.9,1620.7 L364.9,1619.8 L366.9,1619.0 L368.9,1618.1 L370.9,1617.3 L372.9,1616.5 L374.9,1615.8 L376.9,1615.2 L378.9,1614.7 L380.9,1614.2 L382.9,1613.9 L384.9,1613.7 L386.9,1613.7 L388.9,1613.9 L390.9,1614.1 L392.9,1614.5 L394.9,1615.1 L396.9,1615.7 L398.9,1616.4 L400.9,1617.1 L402.9,1617.9 L404.9,1618.8 L406.9,1619.6 L408.9,1620.5 L410.9,1621.3 L412.9,1622.1 L414.9,1622.9 L416.9,1623.5 L418.9,1624.2 L420.9,1624.7 L422.9,1625.1 L424.9,1625.4 L426.9,1625.5 L428.9,1625.5 L430.9,1625.3 L432.9,1625.0 L434.9,1624.5 L436.9,1624.0 L438.9,1623.3 L440.9,1622.6 L442.9,1621.9 L444.9,1621.0 L446.9,1620.2 L448.9,1619.4 L450.9,1618.5 L452.9,1617.7 L454.9,1616.9 L456.9,1616.1 L458.9,1615.5 L460.9,1614.9 L462.9,1614.4 L464.9,1614.0 L466.9,1613.8 L468.9,1613.7 L470.9,1613.8 L472.9,1614.0 L474.9,1614.3 L476.9,1614.8 L478.9,1615.4 L480.9,1616.0 L482.9,1616.8 L484.9,1617.6 L486.9,1618.4 L488.9,1619.2 L490.9,1620.1 L492.9,1620.9 L494.9,1621.7 L496.9,1622.5 L498.9,1623.2 L500.9,1623.9 L502.9,1624.4 L504.9,1624.9 L506.9,1625.2 L508.9,1625.4 L510.9,1625.5 L512.9,1625.4 L514.9,1625.1 L516.9,1624.7 L518.9,1624.3 L520.9,1623.7 L522.9,1623.0 L524.9,1622.2 L526.9,1621.4 L528.9,1620.6 L530.9,1619.8 L532.9,1618.9 L534.9,1618.1 L536.9,1617.3 L538.9,1616.5 L540.9,1615.8 L542.9,1615.2 L544.9,1614.6 L546.9,1614.2 L548.9,1613.9 L550.9,1613.7 L552.9,1613.7 L554.9,1613.9 L556.9,1614.2 L558.9,1614.6 L560.9,1615.1 L562.9,1615.7 L564.9,1616.4 L566.9,1617.2 L568.9,1618.0 L570.9,1618.8 L572.9,1619.7 L574.9,1620.5 L576.9,1621.4 L578.9,1622.2 L580.9,1622.9 L582.9,1623.6 L584.9,1624.2 L586.9,1624.7 L588.9,1625.1 L590.9,1625.4 L592.9,1625.5 L594.9,1625.5 L596.9,1625.3 L598.9,1624.9 L600.9,1624.5 L602.9,1623.9 L604.9,1623.3 L606.9,1622.6 L608.9,1621.8 L610.9,1621.0 L612.9,1620.1 L614.9,1619.3 L616.9,1618.4 L618.9,1617.6 L620.9,1616.8 L622.9,1616.1 L624.9,1615.4 L626.9,1614.9 L628.9,1614.4 L630.9,1614.0 L632.9,1613.8 L634.9,1613.7 L636.9,1613.8 L638.9,1614.0 L640.9,1614.4 L642.9,1614.8 L644.9,1615.4 L646.9,1616.1 L648.9,1616.8 L650.9,1617.6 L652.9,1618.4 L654.9,1619.3 L656.9,1620.1 L658.9,1621.0 L660.9,1621.8 L662.9,1622.6 L664.9,1623.3 L666.9,1623.9 L668.9,1624.5 L670.9,1624.9 L672.9,1625.3 L674.9,1625.5 L676.9,1625.5 L678.9,1625.4 L680.9,1625.1 L682.9,1624.7 L684.9,1624.2 L686.9,1623.6 L688.9,1622.9 L690.9,1622.2 L692.9,1621.4 L694.9,1620.5 L696.9,1619.7 L698.9,1618.8 L700.9,1618.0 L702.9,1617.2 L704.9,1616.4 L706.9,1615.7 L708.9,1615.1 L710.9,1614.6 L712.9,1614.2 L714.9,1613.9 L716.9,1613.7 L718.9,1613.7 L720.9,1613.9 L722.9,1614.2 L724.9,1614.6 L726.9,1615.1 L728.9,1615.8 L730.9,1616.5 L732.9,1617.2 L734.9,1618.0 L736.9,1618.9 L738.9,1619.7 L740.9,1620.6 L742.9,1621.4 L744.9,1622.2 L746.9,1623.0 L748.9,1623.6 L750.9,1624.2 L752.9,1624.7 L754.9,1625.1 L756.9,1625.4 L758.9,1625.5 L760.9,1625.4 L762.9,1625.3 L764.9,1624.9 L766.9,1624.5 L768.9,1623.9 L770.9,1623.3 L772.9,1622.5 L774.9,1621.8 L776.9,1620.9 L778.9,1620.1 L780.9,1619.2 L782.9,1618.4 L784.9,1617.6 L786.9,1616.8 L788.9,1616.1 L790.9,1615.4 L792.9,1614.8 L794.9,1614.3 L796.9,1614.0 L798.9,1613.8 L800.9,1613.7 L802.9,1613.8 L804.9,1614.0 L806.9,1614.4 L808.9,1614.9 L810.9,1615.5 L812.9,1616.1 L814.9,1616.9 L816.9,1617.7 L818.9,1618.5 L820.9,1619.3 L822.9,1620.2 L824.9,1621.0 L826.9,1621.8 L828.9,1622.6 L830.9,1623.3 L832.9,1624.0 L834.9,1624.5 L836.9,1625.0 L838.9,1625.3 L840.9,1625.5 L842.9,1625.5 L844.9,1625.4 L846.9,1625.1 L848.9,1624.7 L850.9,1624.2 L852.9,1623.6 L854.9,1622.9 L856.9,1622.1 L858.9,1621.3 L860.9,1620.5 L862.9,1619.6 L864.9,1618.8 L866.9,1617.9 L868.9,1617.1 L870.9,1616.4 L872.9,1615.7 L874.9,1615.1 L876.9,1614.6 L878.9,1614.1 L880.9,1613.9 L882.9,1613.7 L884.9,1613.7 L886.9,1613.9 L888.9,1614.2 L890.9,1614.6 L892.9,1615.2 L894.9,1615.8 L896.9,1616.5 L898.9,1617.3 L900.9,1618.1 L902.9,1618.9 L904.9,1619.8 L906.9,1620.6 L908.9,1621.5 L910.9,1622.3 L912.9,1623.0 L914.9,1623.7 L916.9,1624.3 L918.9,1624.8 L920.9,1625.1 L922.9,1625.4 L924.9,1625.5 L926.9,1625.4 L928.9,1625.2 L930.9,1624.9 L932.9,1624.4 L934.9,1623.9 L936.9,1623.2 L938.9,1622.5 L940.9,1621.7 L942.9,1620.9 L944.9,1620.0 L946.9,1619.2 L948.9,1618.3 L950.9,1617.5 L952.9,1616.7 L954.9,1616.0 L956.9,1615.3 L958.9,1614.8 L960.9,1614.3 L962.9,1614.0 L964.9,1613.8 L966.9,1613.7 L968.9,1613.8 L970.9,1614.0 L972.9,1614.4 L974.9,1614.9 L976.9,1615.5 L978.9,1616.2 L980.9,1616.9 L982.9,1617.7 L984.9,1618.5 L986.9,1619.4 L988.9,1620.3 L990.9,1621.1 L992.9,1621.9 L994.9,1622.7 L996.9,1623.4 L998.9,1624.0 L1000.9,1624.6 L1002.9,1625.0 L1004.9,1625.3 L1006.9,1625.5 L1008.9,1625.5 L1010.9,1625.3 L1012.9,1625.1 L1014.9,1624.7 L1016.9,1624.1 L1018.9,1623.5 L1020.9,1622.8 L1022.9,1622.1 L1024.9,1621.3 L1026.9,1620.4 L1028.9,1619.6 L1030.9,1618.7 L1032.9,1617.9 L1034.9,1617.1 L1036.9,1616.3 L1038.9,1615.6 L1040.9,1615.0 L1042.9,1614.5 L1044.9,1614.1 L1046.9,1613.8 L1048.9,1613.7 L1050.9,1613.7 L1052.9,1613.9 L1054.9,1614.2 L1056.9,1614.7 L1058.9,1615.2 L1060.9,1615.9 L1062.9,1616.6 L1064.9,1617.3 L1066.9,1618.2 L1068.9,1619.0 L1070.9,1619.9 L1072.9,1620.7 L1074.9,1621.5 L1076.9,1622.3 L1078.9,1623.1 L1080.9,1623.7 L1082.9,1624.3 L1084.9,1624.8 L1086.9,1625.2 L1088.9,1625.4 L1090.9,1625.5 L1092.9,1625.4 L1094.9,1625.2 L1096.9,1624.9 L1098.9,1624.4 L1100.9,1623.8 L1102.9,1623.2 L1104.9,1622.4 L1106.9,1621.6 L1108.9,1620.8 L1110.9,1620.0 L1112.9,1619.1 L1114.9,1618.3 L1116.9,1617.5 L1118.9,1616.7 L1120.9,1616.0 L1122.9,1615.3 L1124.9,1614.7 L1126.9,1614.3 L1128.9,1614.0 L1130.9,1613.8 L1132.9,1613.7 L1134.9,1613.9 L1136.9,1614.2 L1138.9,1614.7 L1140.9,1615.4 L1142.9,1616.2 L1144.9,1617.1 L1146.9,1618.0 L1148.9,1619.0 L1150.0,1619.5 L1150.5,1619.8 L1151.0,1620.0 L1151.5,1620.3 L1152.0,1620.5 L1152.5,1620.8 L1153.0,1621.0 L1153.5,1621.2 L1154.0,1621.5 L1154.5,1621.7 L1155.0,1621.9 L1155.5,1622.1 L1156.0,1622.3 L1156.5,1622.5 L1157.0,1622.7 L1157.5,1622.9 L1158.0,1623.1 L1158.5,1623.3 L1159.0,1623.5 L1159.5,1623.6 L1160.0,1623.8 L1160.5,1623.9 L1161.0,1624.1 L1161.5,1624.2 L1162.0,1624.3 L1162.5,1624.4 L1163.0,1624.5 L1163.5,1624.6 L1164.0,1624.7 L1164.5,1624.7 L1165.0,1624.8 L1165.5,1624.8 L1166.0,1624.8 L1166.5,1624.8 L1167.0,1624.7 L1167.5,1624.6 L1168.0,1624.4 L1168.5,1624.2 L1169.0,1623.9 L1169.5,1623.6 L1170.0,1623.2 L1170.5,1622.7 L1171.0,1622.2 L1171.5,1621.7 L1172.0,1621.1 L1172.5,1620.5 L1173.0,1619.5 L1173.5,1618.1 L1174.0,1616.2 L1174.5,1614.0 L1175.0,1611.6 L1175.5,1608.5 L1176.0,1604.0 L1176.5,1599.0 L1177.0,1593.8 L1177.5,1588.5 L1178.0,1584.7 L1178.5,1581.8 L1179.0,1579.5 L1179.5,1577.3 L1180.0,1575.1 L1180.5,1572.6 L1181.0,1570.1 L1181.5,1567.8 L1182.0,1565.4 L1182.5,1563.1 L1183.0,1560.7 L1183.5,1558.3 L1184.0,1555.8 L1184.5,1553.1 L1185.0,1550.2 L1185.5,1547.1 L1186.0,1543.8 L1186.5,1540.1 L1187.0,1535.9 L1187.5,1531.2 L1188.0,1526.1 L1188.5,1520.6 L1189.0,1514.8 L1189.5,1508.7 L1190.0,1501.8 L1190.5,1494.2 L1191.0,1486.3 L1191.5,1478.4 L1192.0,1469.9 L1192.5,1461.1 L1193.0,1452.9 L1193.5,1445.9 L1194.0,1439.4 L1194.5,1433.4 L1195.0,1427.7 L1195.5,1422.2 L1196.0,1416.8 L1196.5,1411.9 L1197.0,1407.2 L1197.5,1402.6 L1198.0,1397.8 L1198.5,1392.7 L1199.0,1387.0 L1199.5,1380.9 L1200.0,1374.3 L1200.5,1367.4 L1201.0,1360.4 L1201.5,1353.3 L1202.0,1346.3 L1202.5,1339.4 L1203.0,1332.9 L1203.5,1326.8 L1204.0,1320.9 L1204.5,1315.2 L1205.0,1309.7 L1205.5,1304.2 L1206.0,1298.8 L1206.5,1293.3 L1207.0,1287.8 L1207.5,1282.1 L1208.0,1276.2 L1208.5,1270.0 L1209.0,1263.5 L1209.5,1256.6 L1210.0,1249.5 L1210.5,1242.1 L1211.0,1234.6 L1211.5,1227.0 L1212.0,1219.4 L1212.5,1211.9 L1213.0,1204.5 L1213.5,1197.3 L1214.0,1190.4 L1214.5,1183.8 L1215.0,1177.6 L1215.5,1171.8 L1216.0,1166.2 L1216.5,1160.9 L1217.0,1155.5 L1217.5,1150.1 L1218.0,1144.4 L1218.5,1138.6 L1219.0,1132.6 L1219.5,1126.5 L1220.0,1120.3 L1220.5,1114.3 L1221.0,1108.4 L1221.5,1102.7 L1222.0,1097.3 L1222.5,1092.0 L1223.0,1086.9 L1223.5,1081.9 L1224.0,1076.9 L1224.5,1072.0 L1225.0,1067.1 L1225.5,1062.2 L1226.0,1057.3 L1226.5,1052.3 L1227.0,1047.1 L1227.5,1041.9 L1228.0,1036.7 L1228.5,1031.5 L1229.0,1026.3 L1229.5,1021.3 L1230.0,1016.5 L1230.5,1012.0 L1231.0,1007.6 L1231.5,1003.4 L1232.0,999.4 L1232.5,995.4 L1233.0,991.5 L1233.5,987.8 L1234.0,984.1 L1234.5,980.4 L1235.0,976.9 L1235.5,973.4 L1236.0,969.9 L1236.5,966.5 L1237.0,963.1 L1237.5,959.7 L1238.0,956.4 L1238.5,953.2 L1239.0,950.0 L1239.5,946.8 L1240.0,943.7 L1240.5,940.6 L1241.0,937.6 L1241.5,934.6 L1242.0,931.6 L1242.5,928.7 L1243.0,925.7 L1243.5,922.9 L1244.0,920.0 L1244.5,917.2 L1245.0,914.4 L1245.5,911.6 L1246.0,908.9 L1246.5,906.2 L1247.0,903.6 L1247.5,901.0 L1248.0,898.5 L1248.5,896.0 L1249.0,893.6 L1249.5,891.1 L1250.0,888.7 L1250.5,886.3 L1251.0,883.9 L1251.5,881.6 L1252.0,879.4 L1252.5,877.2 L1253.0,875.1 L1253.5,873.1 L1254.0,871.2 L1254.5,869.4 L1255.0,867.7 L1255.5,866.0 L1256.0,864.4 L1256.5,862.8 L1257.0,861.2 L1257.5,859.7 L1258.0,858.2 L1258.5,856.8 L1259.0,855.4 L1259.5,854.0 L1260.0,852.7 L1260.5,851.4 L1261.0,850.1 L1261.5,848.9 L1262.0,847.7 L1262.5,846.5 L1263.0,845.4 L1263.5,844.2 L1264.0,843.1 L1264.5,842.0 L1265.0,841.0 L1265.5,839.9 L1266.0,838.9 L1266.5,837.9 L1267.0,837.0 L1267.5,836.0 L1268.0,835.1 L1268.5,834.2 L1269.0,833.4 L1269.5,832.6 L1270.0,831.8 L1270.5,831.0 L1271.0,830.3 L1271.5,829.6 L1272.0,828.9 L1272.5,828.2 L1273.0,827.5 L1273.5,826.9 L1274.0,826.2 L1274.5,825.6 L1275.0,824.9 L1275.5,824.3 L1276.0,823.7 L1276.5,823.1 L1277.0,822.5 L1277.5,821.9 L1278.0,821.4 L1278.5,820.9 L1279.0,820.4 L1279.5,819.9 L1280.0,819.4 L1280.5,819.0 L1281.0,818.5 L1281.5,818.1 L1282.0,817.8 L1282.5,817.4 L1283.0,817.1 L1283.5,816.8 L1284.0,816.5 L1284.5,816.2 L1285.0,816.0 L1285.5,815.7 L1286.0,815.4 L1286.5,815.2 L1287.0,814.9 L1287.5,814.6 L1288.0,814.4 L1288.5,814.1 L1289.0,813.9 L1289.5,813.7 L1290.0,813.4 L1290.5,813.2 L1291.0,813.0 L1291.5,812.8 L1292.0,812.6 L1292.5,812.5 L1293.0,812.3 L1293.5,812.2 L1294.0,812.0 L1294.5,811.9 L1295.0,811.8 L1295.5,811.7 L1296.0,811.6 L1296.5,811.6 L1297.0,811.5 L1297.5,811.5 L1298.0,811.5 L1298.5,811.5 L1299.0,811.6 L1299.5,811.7 L1300.0,811.8 L1302.0,812.6 L1304.0,813.7 L1306.0,815.1 L1308.0,816.6 L1310.0,818.2 L1312.0,819.7 L1314.0,821.3 L1316.0,823.1 L1318.0,825.2 L1320.0,827.3 L1322.0,829.3 L1324.0,831.1 L1326.0,832.6 L1328.0,833.8 L1330.0,834.8 L1332.0,835.9 L1334.0,836.9 L1336.0,837.8 L1338.0,838.6 L1340.0,839.2 L1342.0,839.6 L1344.0,839.9 L1346.0,839.9 L1348.0,839.7 L1350.0,839.4 L1352.0,839.0 L1354.0,838.5 L1356.0,837.9 L1358.0,837.2 L1360.0,836.5 L1362.0,835.8 L1364.0,835.1 L1366.0,834.4 L1368.0,833.8 L1370.0,833.2 L1372.0,832.7 L1374.0,832.3 L1376.0,832.0 L1378.0,831.9 L1380.0,831.9 L1382.0,832.1 L1384.0,832.5 L1386.0,832.9 L1388.0,833.5 L1390.0,834.2 L1392.0,835.0 L1394.0,835.8 L1396.0,836.7 L1398.0,837.7 L1400.0,838.6 L1402.0,839.6 L1404.0,840.5 L1406.0,841.5 L1408.0,842.4 L1410.0,843.2 L1412.0,844.0 L1414.0,844.7 L1416.0,845.3 L1418.0,845.7 L1420.0,846.1 L1422.0,846.3 L1424.0,846.3 L1426.0,846.1 L1428.0,845.7 L1430.0,845.2 L1432.0,844.5 L1434.0,843.7 L1436.0,842.8 L1438.0,841.8 L1440.0,840.8 L1442.0,839.7 L1444.0,838.6 L1446.0,837.5 L1448.0,836.4 L1450.0,835.4 L1452.0,834.4 L1454.0,833.5 L1456.0,832.7 L1458.0,832.1 L1460.0,831.6 L1462.0,831.2 L1464.0,831.1 L1466.0,831.2 L1468.0,831.5 L1470.0,831.9 L1472.0,832.5 L1474.0,833.3 L1476.0,834.2 L1478.0,835.2 L1480.0,836.2 L1482.0,837.3 L1484.0,838.5 L1486.0,839.6 L1488.0,840.8 L1490.0,841.9 L1492.0,843.0 L1494.0,844.0 L1496.0,845.0 L1498.0,845.8 L1500.0,846.5 L1502.0,847.0 L1504.0,847.3 L1506.0,847.5 L1508.0,847.4 L1510.0,847.2 L1512.0,846.7 L1514.0,846.1 L1516.0,845.4 L1518.0,844.5 L1520.0,843.5 L1522.0,842.5 L1524.0,841.4 L1526.0,840.3 L1528.0,839.1 L1530.0,838.0 L1532.0,836.9 L1534.0,835.9 L1536.0,834.9 L1538.0,834.0 L1540.0,833.3 L1542.0,832.7 L1544.0,832.2 L1546.0,832.0 L1548.0,831.9 L1550.0,832.1 L1552.0,832.4 L1554.0,832.9 L1556.0,833.5 L1558.0,834.3 L1560.0,835.2 L1562.0,836.2 L1564.0,837.2 L1566.0,838.3 L1568.0,839.4 L1570.0,840.6 L1572.0,841.7 L1574.0,842.8 L1576.0,843.8 L1578.0,844.8 L1580.0,845.7 L1582.0,846.5 L1584.0,847.2 L1586.0,847.7 L1588.0,848.1 L1590.0,848.3 L1592.0,848.3 L1594.0,848.0 L1596.0,847.6 L1598.0,847.0 L1600.0,846.3 L1602.0,845.4 L1604.0,844.4 L1606.0,843.4 L1608.0,842.3 L1610.0,841.2 L1612.0,840.0 L1614.0,838.9 L1616.0,837.8 L1618.0,836.8 L1620.0,835.8 L1622.0,835.0 L1624.0,834.2 L1626.0,833.7 L1628.0,833.3 L1630.0,833.1 L1632.0,833.1 L1634.0,833.4 L1636.0,833.9 L1638.0,834.5 L1640.0,835.3 L1642.0,836.2 L1644.0,837.2 L1646.0,838.4 L1648.0,839.6 L1650.0,840.8 L1652.0,842.1 L1654.0,843.3 L1656.0,844.6 L1658.0,845.8 L1660.0,847.0 L1662.0,848.1 L1664.0,849.0 L1666.0,849.9 L1668.0,850.6 L1670.0,851.1 L1672.0,851.5 L1674.0,851.6 L1676.0,851.5 L1678.0,851.2 L1680.0,850.6 L1682.0,849.9 L1684.0,849.1 L1686.0,848.1 L1688.0,847.0 L1690.0,845.9 L1692.0,844.7 L1694.0,843.5 L1696.0,842.3 L1698.0,841.1 L1700.0,840.0 L1702.0,838.9 L1704.0,838.0 L1706.0,837.3 L1708.0,836.6 L1710.0,836.2 L1712.0,836.0 L1714.0,836.0 L1716.0,836.3 L1718.0,836.8 L1720.0,837.4 L1722.0,838.2 L1724.0,839.1 L1726.0,840.1 L1728.0,841.2 L1730.0,842.4 L1732.0,843.6 L1734.0,844.9 L1736.0,846.1 L1738.0,847.4 L1740.0,848.5 L1742.0,849.6 L1744.0,850.6 L1746.0,851.5 L1748.0,852.3 L1750.0,852.9 L1752.0,853.3 L1754.0,853.6 L1756.0,853.6 L1758.0,853.4 L1760.0,853.0 L1762.0,852.5 L1764.0,851.8 L1766.0,851.0 L1768.0,850.1 L1770.0,849.1 L1772.0,848.1 L1774.0,847.0 L1776.0,845.9 L1778.0,844.9 L1780.0,843.8 L1782.0,842.9 L1784.0,841.9 L1786.0,841.1 L1788.0,840.4 L1790.0,839.8 L1792.0,839.4 L1794.0,839.2 L1796.0,839.1 L1798.0,839.3 L1800.0,839.7 L1802.0,840.2 L1804.0,841.0 L1806.0,841.8 L1808.0,842.8 L1810.0,843.9 L1812.0,845.1 L1814.0,846.3 L1816.0,847.5 L1818.0,848.8 L1820.0,850.0 L1822.0,851.2 L1824.0,852.3 L1826.0,853.4 L1828.0,854.3 L1830.0,855.2 L1832.0,855.8 L1834.0,856.3 L1836.0,856.6 L1838.0,856.7 L1840.0,856.6 L1842.0,856.2 L1844.0,855.7 L1846.0,855.0 L1848.0,854.2 L1850.0,853.2 L1852.0,852.2 L1854.0,851.1 L1856.0,850.0 L1858.0,848.9 L1860.0,847.7 L1862.0,846.6 L1864.0,845.6 L1866.0,844.6 L1868.0,843.7 L1870.0,842.9 L1872.0,842.3 L1874.0,841.8 L1876.0,841.6 L1878.0,841.5 L1880.0,841.7 L1882.0,842.0 L1884.0,842.5 L1886.0,843.1 L1888.0,843.9 L1890.0,844.7 L1892.0,845.7 L1894.0,846.7 L1896.0,847.8 L1898.0,848.9 L1900.0,850.1 L1902.0,851.2 L1904.0,852.3 L1906.0,853.4 L1908.0,854.4 L1910.0,855.3 L1912.0,856.2 L1914.0,856.9 L1916.0,857.5 L1918.0,858.0 L1920.0,858.3 L1922.0,858.4 L1924.0,858.3 L1926.0,858.0 L1928.0,857.5 L1930.0,856.8 L1932.0,856.0 L1934.0,855.0 L1936.0,854.0 L1938.0,852.9 L1940.0,851.7 L1942.0,850.5 L1944.0,849.4 L1946.0,848.2 L1948.0,847.1 L1950.0,846.1 L1952.0,845.1 L1954.0,844.3 L1956.0,843.6 L1958.0,843.1 L1960.0,842.8 L1962.0,842.7 L1964.0,842.8 L1966.0,843.1 L1968.0,843.6 L1970.0,844.3 L1972.0,845.1 L1974.0,846.0 L1976.0,847.0 L1978.0,848.0 L1980.0,849.2 L1982.0,850.3 L1984.0,851.5 L1986.0,852.6 L1988.0,853.8 L1990.0,854.8 L1992.0,855.8 L1994.0,856.7 L1996.0,857.5 L1998.0,858.2 L2000.0,858.7 L2002.0,859.0 L2004.0,859.1 L2006.0,859.0 L2008.0,858.7 L2010.0,858.2 L2012.0,857.5 L2014.0,856.6 L2016.0,855.7 L2018.0,854.6 L2020.0,853.5 L2022.0,852.3 L2024.0,851.2 L2026.0,850.0 L2028.0,848.8 L2030.0,847.7 L2032.0,846.6 L2034.0,845.7 L2036.0,844.8 L2038.0,844.1 L2040.0,843.6 L2042.0,843.3 L2044.0,843.2 L2046.0,843.3 L2048.0,843.6 L2050.0,844.1 L2052.0,844.8 L2054.0,845.6 L2056.0,846.5 L2058.0,847.6 L2060.0,848.7 L2062.0,849.8 L2064.0,851.0 L2066.0,852.2 L2068.0,853.5 L2070.0,854.6 L2072.0,855.8 L2074.0,856.9 L2076.0,857.8 L2078.0,858.7 L2080.0,859.5 L2082.0,860.1 L2084.0,860.5 L2086.0,860.8 L2088.0,860.8 L2090.0,860.6 L2092.0,860.2 L2094.0,859.6 L2096.0,858.9 L2098.0,858.1 L2100.0,857.1 L2102.0,856.1 L2104.0,855.0 L2106.0,853.9 L2108.0,852.8 L2110.0,851.7 L2112.0,850.6 L2114.0,849.6 L2116.0,848.7 L2118.0,847.9 L2120.0,847.2 L2122.0,846.7 L2124.0,846.4 L2126.0,846.3 L2128.0,846.4 L2130.0,846.7 L2132.0,847.2 L2134.0,847.8 L2136.0,848.5 L2138.0,849.3 L2140.0,850.3 L2142.0,851.3 L2144.0,852.4 L2146.0,853.5 L2148.0,854.6 L2150.0,855.8 L2152.0,856.9 L2154.0,858.0 L2156.0,859.1 L2158.0,860.1 L2160.0,861.0 L2162.0,861.9 L2164.0,862.6 L2166.0,863.2 L2168.0,863.6 L2170.0,863.8 L2172.0,863.9 L2174.0,863.7 L2176.0,863.3 L2178.0,862.7 L2180.0,861.9 L2182.0,860.9 L2184.0,859.9 L2186.0,858.7 L2188.0,857.5 L2190.0,856.2 L2192.0,854.9 L2194.0,853.7 L2196.0,852.5 L2198.0,851.4 L2200.0,850.4 L2202.0,849.5 L2204.0,848.8 L2206.0,848.3 L2208.0,848.0 L2210.0,848.0 L2212.0,848.2 L2214.0,848.6 L2216.0,849.2 L2218.0,849.9 L2220.0,850.7 L2222.0,851.7 L2224.0,852.7 L2226.0,853.9 L2228.0,855.0 L2230.0,856.2 L2232.0,857.5 L2234.0,858.7 L2236.0,859.9 L2238.0,861.0 L2240.0,862.1 L2242.0,863.1 L2244.0,864.0 L2246.0,864.8 L2248.0,865.4 L2250.0,865.8 L2251.5,866.1"/>
<path stroke="#ffae00" d="M264.9,1587.3 L266.9,1586.6 L268.9,1586.1 L270.9,1585.7 L272.9,1585.6 L274.9,1585.7 L276.9,1585.9 L278.9,1586.4 L280.9,1587.0 L282.9,1587.8 L284.9,1588.6 L286.9,1589.6 L288.9,1590.6 L290.9,1591.7 L292.9,1592.9 L294.9,1594.0 L296.9,1595.1 L298.9,1596.2 L300.9,1597.3 L302.9,1598.3 L304.9,1599.2 L306.9,1599.9 L308.9,1600.5 L310.9,1601.0 L312.9,1601.3 L314.9,1601.4 L316.9,1601.3 L318.9,1601.0 L320.9,1600.5 L322.9,1599.8 L324.9,1599.0 L326.9,1598.1 L328.9,1597.1 L330.9,1596.1 L332.9,1595.0 L334.9,1593.8 L336.9,1592.7 L338.9,1591.6 L340.9,1590.5 L342.9,1589.4 L344.9,1588.5 L346.9,1587.6 L348.9,1586.9 L350.9,1586.3 L352.9,1585.9 L354.9,1585.6 L356.9,1585.6 L358.9,1585.8 L360.9,1586.2 L362.9,1586.7 L364.9,1587.4 L366.9,1588.2 L368.9,1589.1 L370.9,1590.1 L372.9,1591.2 L374.9,1592.3 L376.9,1593.5 L378.9,1594.6 L380.9,1595.7 L382.9,1596.8 L384.9,1597.8 L386.9,1598.8 L388.9,1599.6 L390.9,1600.3 L392.9,1600.8 L394.9,1601.2 L396.9,1601.4 L398.9,1601.4 L400.9,1601.1 L402.9,1600.7 L404.9,1600.1 L406.9,1599.4 L408.9,1598.5 L410.9,1597.6 L412.9,1596.6 L414.9,1595.5 L416.9,1594.4 L418.9,1593.2 L420.9,1592.1 L422.9,1591.0 L424.9,1589.9 L426.9,1588.9 L428.9,1588.0 L430.9,1587.2 L432.9,1586.6 L434.9,1586.1 L436.9,1585.7 L438.9,1585.6 L440.9,1585.7 L442.9,1586.0 L444.9,1586.4 L446.9,1587.1 L448.9,1587.8 L450.9,1588.7 L452.9,1589.7 L454.9,1590.7 L456.9,1591.8 L458.9,1593.0 L460.9,1594.1 L462.9,1595.2 L464.9,1596.3 L466.9,1597.4 L468.9,1598.3 L470.9,1599.2 L472.9,1600.0 L474.9,1600.6 L476.9,1601.0 L478.9,1601.3 L480.9,1601.4 L482.9,1601.3 L484.9,1600.9 L486.9,1600.4 L488.9,1599.8 L490.9,1599.0 L492.9,1598.1 L494.9,1597.1 L496.9,1596.0 L498.9,1594.9 L500.9,1593.7 L502.9,1592.6 L504.9,1591.5 L506.9,1590.4 L508.9,1589.4 L510.9,1588.4 L512.9,1587.6 L514.9,1586.9 L516.9,1586.3 L518.9,1585.9 L520.9,1585.6 L522.9,1585.6 L524.9,1585.8 L526.9,1586.2 L528.9,1586.7 L530.9,1587.4 L532.9,1588.3 L534.9,1589.2 L536.9,1590.2 L538.9,1591.3 L540.9,1592.4 L542.9,1593.6 L544.9,1594.7 L546.9,1595.8 L548.9,1596.9 L550.9,1597.9 L552.9,1598.8 L554.9,1599.6 L556.9,1600.3 L558.9,1600.9 L560.9,1601.2 L562.9,1601.4 L564.9,1601.3 L566.9,1601.1 L568.9,1600.7 L570.9,1600.1 L572.9,1599.3 L574.9,1598.5 L576.9,1597.5 L578.9,1596.5 L580.9,1595.4 L582.9,1594.3 L584.9,1593.1 L586.9,1592.0 L588.9,1590.9 L590.9,1589.8 L592.9,1588.8 L594.9,1588.0 L596.9,1587.2 L598.9,1586.5 L600.9,1586.0 L602.9,1585.7 L604.9,1585.6 L606.9,1585.7 L608.9,1586.0 L610.9,1586.5 L612.9,1587.1 L614.9,1587.9 L616.9,1588.8 L618.9,1589.7 L620.9,1590.8 L622.9,1591.9 L624.9,1593.0 L626.9,1594.2 L628.9,1595.3 L630.9,1596.4 L632.9,1597.4 L634.9,1598.4 L636.9,1599.3 L638.9,1600.0 L640.9,1600.6 L642.9,1601.1 L644.9,1601.3 L646.9,1601.4 L648.9,1601.2 L650.9,1600.9 L652.9,1600.4 L654.9,1599.7 L656.9,1598.9 L658.9,1598.0 L660.9,1597.0 L662.9,1595.9 L664.9,1594.8 L666.9,1593.7 L668.9,1592.5 L670.9,1591.4 L672.9,1590.3 L674.9,1589.3 L676.9,1588.4 L678.9,1587.5 L680.9,1586.8 L682.9,1586.2 L684.9,1585.8 L686.9,1585.6 L688.9,1585.6 L690.9,1585.8 L692.9,1586.2 L694.9,1586.8 L696.9,1587.5 L698.9,1588.3 L700.9,1589.3 L702.9,1590.3 L704.9,1591.4 L706.9,1592.5 L708.9,1593.6 L710.9,1594.8 L712.9,1595.9 L714.9,1597.0 L716.9,1598.0 L718.9,1598.9 L720.9,1599.7 L722.9,1600.4 L724.9,1600.9 L726.9,1601.2 L728.9,1601.4 L730.9,1601.3 L732.9,1601.1 L734.9,1600.6 L736.9,1600.0 L738.9,1599.3 L740.9,1598.4 L742.9,1597.5 L744.9,1596.4 L746.9,1595.3 L748.9,1594.2 L750.9,1593.1 L752.9,1591.9 L754.9,1590.8 L756.9,1589.8 L758.9,1588.8 L760.9,1587.9 L762.9,1587.1 L764.9,1586.5 L766.9,1586.0 L768.9,1585.7 L770.9,1585.6 L772.9,1585.7 L774.9,1586.0 L776.9,1586.5 L778.9,1587.2 L780.9,1587.9 L782.9,1588.8 L784.9,1589.8 L786.9,1590.9 L788.9,1592.0 L790.9,1593.1 L792.9,1594.3 L794.9,1595.4 L796.9,1596.5 L798.9,1597.5 L800.9,1598.5 L802.9,1599.3 L804.9,1600.1 L806.9,1600.7 L808.9,1601.1 L810.9,1601.3 L812.9,1601.4 L814.9,1601.2 L816.9,1600.9 L818.9,1600.3 L820.9,1599.6 L822.9,1598.8 L824.9,1597.9 L826.9,1596.9 L828.9,1595.8 L830.9,1594.7 L832.9,1593.6 L834.9,1592.4 L836.9,1591.3 L838.9,1590.2 L840.9,1589.2 L842.9,1588.3 L844.9,1587.5 L846.9,1586.8 L848.9,1586.2 L850.9,1585.8 L852.9,1585.6 L854.9,1585.6 L856.9,1585.9 L858.9,1586.3 L860.9,1586.8 L862.9,1587.6 L864.9,1588.4 L866.9,1589.3 L868.9,1590.4 L870.9,1591.5 L872.9,1592.6 L874.9,1593.7 L876.9,1594.9 L878.9,1596.0 L880.9,1597.0 L882.9,1598.0 L884.9,1598.9 L886.9,1599.7 L888.9,1600.4 L890.9,1600.9 L892.9,1601.3 L894.9,1601.4 L896.9,1601.3 L898.9,1601.1 L900.9,1600.6 L902.9,1600.0 L904.9,1599.2 L906.9,1598.4 L908.9,1597.4 L910.9,1596.3 L912.9,1595.2 L914.9,1594.1 L916.9,1593.0 L918.9,1591.8 L920.9,1590.7 L922.9,1589.7 L924.9,1588.7 L926.9,1587.8 L928.9,1587.1 L930.9,1586.4 L932.9,1586.0 L934.9,1585.7 L936.9,1585.6 L938.9,1585.7 L940.9,1586.1 L942.9,1586.6 L944.9,1587.2 L946.9,1588.0 L948.9,1588.9 L950.9,1589.9 L952.9,1590.9 L954.9,1592.1 L956.9,1593.2 L958.9,1594.3 L960.9,1595.5 L962.9,1596.5 L964.9,1597.6 L966.9,1598.5 L968.9,1599.4 L970.9,1600.1 L972.9,1600.7 L974.9,1601.1 L976.9,1601.4 L978.9,1601.4 L980.9,1601.2 L982.9,1600.8 L984.9,1600.3 L986.9,1599.6 L988.9,1598.8 L990.9,1597.8 L992.9,1596.8 L994.9,1595.8 L996.9,1594.6 L998.9,1593.5 L1000.9,1592.4 L1002.9,1591.2 L1004.9,1590.2 L1006.9,1589.2 L1008.9,1588.2 L1010.9,1587.4 L1012.9,1586.7 L1014.9,1586.2 L1016.9,1585.8 L1018.9,1585.6 L1020.9,1585.6 L1022.9,1585.9 L1024.9,1586.3 L1026.9,1586.9 L1028.9,1587.6 L1030.9,1588.5 L1032.9,1589.4 L1034.9,1590.4 L1036.9,1591.5 L1038.9,1592.7 L1040.9,1593.8 L1042.9,1594.9 L1044.9,1596.0 L1046.9,1597.1 L1048.9,1598.1 L1050.9,1599.0 L1052.9,1599.8 L1054.9,1600.4 L1056.9,1600.9 L1058.9,1601.3 L1060.9,1601.4 L1062.9,1601.3 L1064.9,1601.0 L1066.9,1600.6 L1068.9,1599.9 L1070.9,1599.2 L1072.9,1598.3 L1074.9,1597.3 L1076.9,1596.3 L1078.9,1595.2 L1080.9,1594.0 L1082.9,1592.9 L1084.9,1591.8 L1086.9,1590.7 L1088.9,1589.6 L1090.9,1588.7 L1092.9,1587.8 L1094.9,1587.0 L1096.9,1586.4 L1098.9,1585.9 L1100.9,1585.7 L1102.9,1585.6 L1104.9,1585.8 L1106.9,1586.1 L1108.9,1586.7 L1110.9,1587.4 L1112.9,1588.3 L1114.9,1589.2 L1116.9,1590.3 L1118.9,1591.4 L1120.9,1592.6 L1122.9,1593.8 L1124.9,1595.0 L1126.9,1596.2 L1128.9,1597.3 L1130.9,1598.3 L1132.9,1599.2 L1134.9,1600.0 L1136.9,1600.6 L1138.9,1601.0 L1140.9,1601.3 L1142.9,1601.2 L1144.9,1600.8 L1146.9,1599.9 L1148.9,1598.8 L1150.0,1598.2 L1150.5,1597.8 L1151.0,1597.5 L1151.5,1597.2 L1152.0,1596.8 L1152.5,1596.5 L1153.0,1596.2 L1153.5,1595.9 L1154.0,1595.6 L1154.5,1595.3 L1155.0,1595.0 L1155.5,1594.7 L1156.0,1594.4 L1156.5,1594.1 L1157.0,1593.9 L1157.5,1593.6 L1158.0,1593.4 L1158.5,1593.1 L1159.0,1592.9 L1159.5,1592.6 L1160.0,1592.4 L1160.5,1592.1 L1161.0,1591.9 L1161.5,1591.6 L1162.0,1591.3 L1162.5,1591.1 L1163.0,1590.8 L1163.5,1590.6 L1164.0,1590.3 L1164.5,1590.0 L1165.0,1589.7 L1165.5,1589.5 L1166.0,1589.2 L1166.5,1588.9 L1167.0,1588.6 L1167.5,1588.3 L1168.0,1588.0 L1168.5,1587.7 L1169.0,1587.4 L1169.5,1587.1 L1170.0,1586.8 L1170.5,1586.5 L1171.0,1586.2 L1171.5,1585.8 L1172.0,1585.5 L1172.5,1585.1 L1173.0,1584.7 L1173.5,1584.3 L1174.0,1583.8 L1174.5,1583.3 L1175.0,1582.7 L1175.5,1582.0 L1176.0,1581.1 L1176.5,1580.2 L1177.0,1579.1 L1177.5,1577.8 L1178.0,1575.9 L1178.5,1573.5 L1179.0,1571.2 L1179.5,1569.3 L1180.0,1567.9 L1180.5,1566.7 L1181.0,1565.4 L1181.5,1563.8 L1182.0,1561.5 L1182.5,1557.5 L1183.0,1552.4 L1183.5,1547.3 L1184.0,1543.3 L1184.5,1539.7 L1185.0,1536.3 L1185.5,1533.0 L1186.0,1529.9 L1186.5,1526.8 L1187.0,1523.8 L1187.5,1520.9 L1188.0,1517.9 L1188.5,1515.0 L1189.0,1512.0 L1189.5,1509.0 L1190.0,1506.0 L1190.5,1503.0 L1191.0,1500.1 L1191.5,1497.2 L1192.0,1494.3 L1192.5,1491.4 L1193.0,1488.5 L1193.5,1485.7 L1194.0,1482.8 L1194.5,1480.0 L1195.0,1477.2 L1195.5,1474.5 L1196.0,1471.8 L1196.5,1469.1 L1197.0,1466.4 L1197.5,1463.7 L1198.0,1461.0 L1198.5,1458.3 L1199.0,1455.6 L1199.5,1452.8 L1200.0,1450.0 L1200.5,1447.1 L1201.0,1444.2 L1201.5,1441.2 L1202.0,1438.2 L1202.5,1435.2 L1203.0,1432.1 L1203.5,1429.1 L1204.0,1426.0 L1204.5,1423.0 L1205.0,1420.0 L1205.5,1417.0 L1206.0,1414.0 L1206.5,1411.1 L1207.0,1408.1 L1207.5,1405.1 L1208.0,1402.1 L1208.5,1399.2 L1209.0,1396.1 L1209.5,1393.1 L1210.0,1390.0 L1210.5,1386.9 L1211.0,1383.7 L1211.5,1380.5 L1212.0,1377.2 L1212.5,1374.0 L1213.0,1370.7 L1213.5,1367.4 L1214.0,1364.1 L1214.5,1360.7 L1215.0,1357.4 L1215.5,1354.1 L1216.0,1350.8 L1216.5,1347.5 L1217.0,1344.3 L1217.5,1341.0 L1218.0,1337.9 L1218.5,1334.7 L1219.0,1331.6 L1219.5,1328.6 L1220.0,1325.6 L1220.5,1322.5 L1221.0,1319.6 L1221.5,1316.6 L1222.0,1313.6 L1222.5,1310.7 L1223.0,1307.8 L1223.5,1304.9 L1224.0,1302.0 L1224.5,1299.1 L1225.0,1296.3 L1225.5,1293.4 L1226.0,1290.6 L1226.5,1287.8 L1227.0,1285.0 L1227.5,1282.2 L1228.0,1279.5 L1228.5,1276.7 L1229.0,1274.0 L1229.5,1271.3 L1230.0,1268.6 L1230.5,1265.9 L1231.0,1263.3 L1231.5,1260.6 L1232.0,1258.0 L1232.5,1255.4 L1233.0,1252.8 L1233.5,1250.3 L1234.0,1247.7 L1234.5,1245.2 L1235.0,1242.7 L1235.5,1240.1 L1236.0,1237.6 L1236.5,1235.1 L1237.0,1232.6 L1237.5,1230.1 L1238.0,1227.5 L1238.5,1225.0 L1239.0,1222.5 L1239.5,1219.9 L1240.0,1217.3 L1240.5,1214.8 L1241.0,1212.2 L1241.5,1209.6 L1242.0,1207.0 L1242.5,1204.4 L1243.0,1201.9 L1243.5,1199.3 L1244.0,1196.8 L1244.5,1194.3 L1245.0,1191.8 L1245.5,1189.4 L1246.0,1187.0 L1246.5,1184.6 L1247.0,1182.3 L1247.5,1180.0 L1248.0,1177.7 L1248.5,1175.5 L1249.0,1173.2 L1249.5,1171.0 L1250.0,1168.8 L1250.5,1166.7 L1251.0,1164.6 L1251.5,1162.5 L1252.0,1160.6 L1252.5,1158.8 L1253.0,1157.0 L1253.5,1155.3 L1254.0,1153.7 L1254.5,1152.1 L1255.0,1150.6 L1255.5,1149.1 L1256.0,1147.7 L1256.5,1146.4 L1257.0,1145.1 L1257.5,1144.0 L1258.0,1142.9 L1258.5,1141.9 L1259.0,1140.9 L1259.5,1139.9 L1260.0,1139.0 L1260.5,1138.1 L1261.0,1137.2 L1261.5,1136.4 L1262.0,1135.6 L1262.5,1134.9 L1263.0,1134.2 L1263.5,1133.5 L1264.0,1132.8 L1264.5,1132.2 L1265.0,1131.5 L1265.5,1130.9 L1266.0,1130.3 L1266.5,1129.7 L1267.0,1129.1 L1267.5,1128.6 L1268.0,1128.1 L1268.5,1127.6 L1269.0,1127.2 L1269.5,1126.8 L1270.0,1126.5 L1270.5,1126.2 L1271.0,1125.9 L1271.5,1125.6 L1272.0,1125.3 L1272.5,1125.0 L1273.0,1124.7 L1273.5,1124.5 L1274.0,1124.3 L1274.5,1124.1 L1275.0,1123.9 L1275.5,1123.9 L1276.0,1123.8 L1276.5,1123.8 L1277.0,1123.8 L1277.5,1123.8 L1278.0,1123.9 L1278.5,1123.9 L1279.0,1124.0 L1279.5,1124.1 L1280.0,1124.2 L1280.5,1124.3 L1281.0,1124.4 L1281.5,1124.5 L1282.0,1124.6 L1282.5,1124.8 L1283.0,1124.9 L1283.5,1125.1 L1284.0,1125.2 L1284.5,1125.4 L1285.0,1125.6 L1285.5,1125.8 L1286.0,1126.0 L1286.5,1126.2 L1287.0,1126.4 L1287.5,1126.6 L1288.0,1126.8 L1288.5,1127.0 L1289.0,1127.3 L1289.5,1127.5 L1290.0,1127.7 L1290.5,1128.0 L1291.0,1128.2 L1291.5,1128.5 L1292.0,1128.7 L1292.5,1128.9 L1293.0,1129.2 L1293.5,1129.4 L1294.0,1129.7 L1294.5,1130.0 L1295.0,1130.2 L1295.5,1130.5 L1296.0,1130.7 L1296.5,1131.0 L1297.0,1131.2 L1297.5,1131.4 L1298.0,1131.7 L1298.5,1131.9 L1299.0,1132.2 L1299.5,1132.4 L1300.0,1132.6 L1302.0,1133.5 L1304.0,1134.3 L1306.0,1134.9 L1308.0,1135.5 L1310.0,1135.8 L1312.0,1136.0 L1314.0,1135.9 L1316.0,1135.7 L1318.0,1135.2 L1320.0,1134.5 L1322.0,1133.8 L1324.0,1132.9 L1326.0,1131.9 L1328.0,1130.9 L1330.0,1129.8 L1332.0,1128.7 L1334.0,1127.7 L1336.0,1126.7 L1338.0,1125.9 L1340.0,1125.1 L1342.0,1124.5 L1344.0,1124.1 L1346.0,1123.8 L1348.0,1123.8 L1350.0,1124.1 L1352.0,1124.5 L1354.0,1125.2 L1356.0,1126.0 L1358.0,1127.0 L1360.0,1128.1 L1362.0,1129.3 L1364.0,1130.6 L1366.0,1132.0 L1368.0,1133.4 L1370.0,1134.9 L1372.0,1136.3 L1374.0,1137.7 L1376.0,1139.0 L1378.0,1140.3 L1380.0,1141.5 L1382.0,1142.6 L1384.0,1143.5 L1386.0,1144.3 L1388.0,1144.9 L1390.0,1145.2 L1392.0,1145.4 L1394.0,1145.3 L1396.0,1144.9 L1398.0,1144.3 L1400.0,1143.4 L1402.0,1142.3 L1404.0,1141.1 L1406.0,1139.7 L1408.0,1138.3 L1410.0,1136.7 L1412.0,1135.2 L1414.0,1133.6 L1416.0,1132.0 L1418.0,1130.5 L1420.0,1129.1 L1422.0,1127.8 L1424.0,1126.6 L1426.0,1125.6 L1428.0,1124.8 L1430.0,1124.2 L1432.0,1123.9 L1434.0,1123.9 L1436.0,1124.2 L1438.0,1124.7 L1440.0,1125.4 L1442.0,1126.4 L1444.0,1127.4 L1446.0,1128.7 L1448.0,1130.0 L1450.0,1131.4 L1452.0,1132.8 L1454.0,1134.3 L1456.0,1135.7 L1458.0,1137.1 L1460.0,1138.5 L1462.0,1139.8 L1464.0,1140.9 L1466.0,1141.9 L1468.0,1142.7 L1470.0,1143.4 L1472.0,1143.8 L1474.0,1143.9 L1476.0,1143.8 L1478.0,1143.4 L1480.0,1142.8 L1482.0,1142.0 L1484.0,1141.0 L1486.0,1139.9 L1488.0,1138.6 L1490.0,1137.3 L1492.0,1135.9 L1494.0,1134.5 L1496.0,1133.0 L1498.0,1131.6 L1500.0,1130.1 L1502.0,1128.8 L1504.0,1127.5 L1506.0,1126.4 L1508.0,1125.4 L1510.0,1124.6 L1512.0,1124.0 L1514.0,1123.6 L1516.0,1123.4 L1518.0,1123.5 L1520.0,1123.9 L1522.0,1124.4 L1524.0,1125.2 L1526.0,1126.1 L1528.0,1127.2 L1530.0,1128.4 L1532.0,1129.7 L1534.0,1131.1 L1536.0,1132.5 L1538.0,1133.9 L1540.0,1135.3 L1542.0,1136.7 L1544.0,1138.0 L1546.0,1139.2 L1548.0,1140.4 L1550.0,1141.3 L1552.0,1142.2 L1554.0,1142.8 L1556.0,1143.2 L1558.0,1143.4 L1560.0,1143.3 L1562.0,1143.0 L1564.0,1142.4 L1566.0,1141.6 L1568.0,1140.6 L1570.0,1139.5 L1572.0,1138.3 L1574.0,1136.9 L1576.0,1135.5 L1578.0,1134.1 L1580.0,1132.6 L1582.0,1131.1 L1584.0,1129.7 L1586.0,1128.4 L1588.0,1127.2 L1590.0,1126.1 L1592.0,1125.1 L1594.0,1124.3 L1596.0,1123.8 L1598.0,1123.5 L1600.0,1123.4 L1602.0,1123.6 L1604.0,1124.1 L1606.0,1124.9 L1608.0,1125.8 L1610.0,1126.9 L1612.0,1128.2 L1614.0,1129.6 L1616.0,1131.0 L1618.0,1132.5 L1620.0,1134.1 L1622.0,1135.6 L1624.0,1137.1 L1626.0,1138.6 L1628.0,1140.0 L1630.0,1141.2 L1632.0,1142.3 L1634.0,1143.2 L1636.0,1143.9 L1638.0,1144.4 L1640.0,1144.6 L1642.0,1144.5 L1644.0,1144.2 L1646.0,1143.6 L1648.0,1142.9 L1650.0,1141.9 L1652.0,1140.8 L1654.0,1139.6 L1656.0,1138.3 L1658.0,1137.0 L1660.0,1135.6 L1662.0,1134.2 L1664.0,1132.8 L1666.0,1131.4 L1668.0,1130.1 L1670.0,1128.9 L1672.0,1127.9 L1674.0,1127.0 L1676.0,1126.2 L1678.0,1125.7 L1680.0,1125.4 L1682.0,1125.3 L1684.0,1125.5 L1686.0,1126.0 L1688.0,1126.6 L1690.0,1127.5 L1692.0,1128.5 L1694.0,1129.6 L1696.0,1130.9 L1698.0,1132.3 L1700.0,1133.7 L1702.0,1135.1 L1704.0,1136.5 L1706.0,1138.0 L1708.0,1139.3 L1710.0,1140.6 L1712.0,1141.8 L1714.0,1142.9 L1716.0,1143.9 L1718.0,1144.6 L1720.0,1145.2 L1722.0,1145.5 L1724.0,1145.6 L1726.0,1145.4 L1728.0,1145.0 L1730.0,1144.4 L1732.0,1143.6 L1734.0,1142.7 L1736.0,1141.6 L1738.0,1140.4 L1740.0,1139.2 L1742.0,1137.9 L1744.0,1136.6 L1746.0,1135.3 L1748.0,1134.0 L1750.0,1132.8 L1752.0,1131.6 L1754.0,1130.6 L1756.0,1129.7 L1758.0,1128.9 L1760.0,1128.3 L1762.0,1127.9 L1764.0,1127.8 L1766.0,1127.9 L1768.0,1128.3 L1770.0,1128.8 L1772.0,1129.6 L1774.0,1130.5 L1776.0,1131.5 L1778.0,1132.7 L1780.0,1133.9 L1782.0,1135.2 L1784.0,1136.6 L1786.0,1137.9 L1788.0,1139.3 L1790.0,1140.6 L1792.0,1141.9 L1794.0,1143.1 L1796.0,1144.1 L1798.0,1145.1 L1800.0,1145.8 L1802.0,1146.4 L1804.0,1146.8 L1806.0,1147.0 L1808.0,1146.9 L1810.0,1146.5 L1812.0,1146.0 L1814.0,1145.2 L1816.0,1144.2 L1818.0,1143.1 L1820.0,1141.9 L1822.0,1140.5 L1824.0,1139.2 L1826.0,1137.7 L1828.0,1136.3 L1830.0,1134.9 L1832.0,1133.6 L1834.0,1132.4 L1836.0,1131.2 L1838.0,1130.2 L1840.0,1129.4 L1842.0,1128.8 L1844.0,1128.4 L1846.0,1128.2 L1848.0,1128.3 L1850.0,1128.6 L1852.0,1129.2 L1854.0,1129.9 L1856.0,1130.8 L1858.0,1131.8 L1860.0,1132.9 L1862.0,1134.1 L1864.0,1135.3 L1866.0,1136.7 L1868.0,1138.0 L1870.0,1139.3 L1872.0,1140.6 L1874.0,1141.9 L1876.0,1143.1 L1878.0,1144.2 L1880.0,1145.1 L1882.0,1146.0 L1884.0,1146.6 L1886.0,1147.1 L1888.0,1147.4 L1890.0,1147.5 L1892.0,1147.3 L1894.0,1146.9 L1896.0,1146.3 L1898.0,1145.4 L1900.0,1144.5 L1902.0,1143.4 L1904.0,1142.2 L1906.0,1140.9 L1908.0,1139.6 L1910.0,1138.2 L1912.0,1136.9 L1914.0,1135.6 L1916.0,1134.3 L1918.0,1133.1 L1920.0,1132.0 L1922.0,1131.1 L1924.0,1130.2 L1926.0,1129.6 L1928.0,1129.2 L1930.0,1129.0 L1932.0,1129.1 L1934.0,1129.4 L1936.0,1129.9 L1938.0,1130.6 L1940.0,1131.5 L1942.0,1132.6 L1944.0,1133.7 L1946.0,1135.0 L1948.0,1136.3 L1950.0,1137.7 L1952.0,1139.1 L1954.0,1140.5 L1956.0,1141.8 L1958.0,1143.2 L1960.0,1144.4 L1962.0,1145.5 L1964.0,1146.5 L1966.0,1147.3 L1968.0,1148.0 L1970.0,1148.5 L1972.0,1148.7 L1974.0,1148.6 L1976.0,1148.4 L1978.0,1147.8 L1980.0,1147.1 L1982.0,1146.2 L1984.0,1145.1 L1986.0,1143.9 L1988.0,1142.6 L1990.0,1141.2 L1992.0,1139.8 L1994.0,1138.4 L1996.0,1137.0 L1998.0,1135.6 L2000.0,1134.4 L2002.0,1133.2 L2004.0,1132.2 L2006.0,1131.3 L2008.0,1130.6 L2010.0,1130.1 L2012.0,1129.9 L2014.0,1130.0 L2016.0,1130.3 L2018.0,1130.8 L2020.0,1131.5 L2022.0,1132.3 L2024.0,1133.4 L2026.0,1134.5 L2028.0,1135.7 L2030.0,1137.0 L2032.0,1138.4 L2034.0,1139.8 L2036.0,1141.1 L2038.0,1142.5 L2040.0,1143.7 L2042.0,1145.0 L2044.0,1146.1 L2046.0,1147.0 L2048.0,1147.9 L2050.0,1148.5 L2052.0,1149.0 L2054.0,1149.2 L2056.0,1149.2 L2058.0,1148.9 L2060.0,1148.3 L2062.0,1147.6 L2064.0,1146.7 L2066.0,1145.7 L2068.0,1144.5 L2070.0,1143.2 L2072.0,1141.9 L2074.0,1140.5 L2076.0,1139.1 L2078.0,1137.7 L2080.0,1136.3 L2082.0,1135.0 L2084.0,1133.8 L2086.0,1132.7 L2088.0,1131.7 L2090.0,1130.9 L2092.0,1130.4 L2094.0,1130.0 L2096.0,1129.9 L2098.0,1130.1 L2100.0,1130.5 L2102.0,1131.1 L2104.0,1131.9 L2106.0,1132.9 L2108.0,1134.0 L2110.0,1135.2 L2112.0,1136.5 L2114.0,1137.9 L2116.0,1139.3 L2118.0,1140.7 L2120.0,1142.1 L2122.0,1143.5 L2124.0,1144.8 L2126.0,1146.0 L2128.0,1147.1 L2130.0,1148.1 L2132.0,1148.9 L2134.0,1149.5 L2136.0,1149.9 L2138.0,1150.0 L2140.0,1149.9 L2142.0,1149.5 L2144.0,1148.9 L2146.0,1148.1 L2148.0,1147.2 L2150.0,1146.1 L2152.0,1144.9 L2154.0,1143.6 L2156.0,1142.3 L2158.0,1140.9 L2160.0,1139.5 L2162.0,1138.2 L2164.0,1136.8 L2166.0,1135.6 L2168.0,1134.5 L2170.0,1133.4 L2172.0,1132.6 L2174.0,1131.9 L2176.0,1131.4 L2178.0,1131.1 L2180.0,1131.1 L2182.0,1131.4 L2184.0,1131.9 L2186.0,1132.7 L2188.0,1133.6 L2190.0,1134.7 L2192.0,1135.9 L2194.0,1137.3 L2196.0,1138.7 L2198.0,1140.2 L2200.0,1141.7 L2202.0,1143.2 L2204.0,1144.7 L2206.0,1146.1 L2208.0,1147.5 L2210.0,1148.7 L2212.0,1149.8 L2214.0,1150.8 L2216.0,1151.5 L2218.0,1152.1 L2220.0,1152.3 L2222.0,1152.4 L2224.0,1152.0 L2226.0,1151.3 L2228.0,1150.3 L2230.0,1149.1 L2232.0,1147.7 L2234.0,1146.1 L2236.0,1144.4 L2238.0,1142.7 L2240.0,1141.0 L2242.0,1139.4 L2244.0,1137.8 L2246.0,1136.4 L2248.0,1135.3 L2250.0,1134.3 L2251.5,1133.8"/>
<path stroke="#8c1b94" d="M264.9,1565.0 L266.9,1566.2 L268.9,1567.5 L270.9,1568.7 L272.9,1569.9 L274.9,1571.0 L276.9,1572.0 L278.9,1572.9 L280.9,1573.7 L282.9,1574.3 L284.9,1574.7 L286.9,1574.9 L288.9,1574.9 L290.9,1574.6 L292.9,1574.1 L294.9,1573.5 L296.9,1572.7 L298.9,1571.7 L300.9,1570.7 L302.9,1569.5 L304.9,1568.3 L306.9,1567.1 L308.9,1565.8 L310.9,1564.6 L312.9,1563.4 L314.9,1562.2 L316.9,1561.1 L318.9,1560.1 L320.9,1559.3 L322.9,1558.5 L324.9,1558.0 L326.9,1557.6 L328.9,1557.5 L330.9,1557.6 L332.9,1557.9 L334.9,1558.4 L336.9,1559.1 L338.9,1560.0 L340.9,1560.9 L342.9,1562.0 L344.9,1563.2 L346.9,1564.4 L348.9,1565.6 L350.9,1566.9 L352.9,1568.1 L354.9,1569.3 L356.9,1570.5 L358.9,1571.6 L360.9,1572.5 L362.9,1573.3 L364.9,1574.0 L366.9,1574.5 L368.9,1574.8 L370.9,1574.9 L372.9,1574.7 L374.9,1574.4 L376.9,1573.8 L378.9,1573.1 L380.9,1572.2 L382.9,1571.2 L384.9,1570.1 L386.9,1568.9 L388.9,1567.7 L390.9,1566.4 L392.9,1565.2 L394.9,1563.9 L396.9,1562.7 L398.9,1561.6 L400.9,1560.6 L402.9,1559.6 L404.9,1558.9 L406.9,1558.2 L408.9,1557.8 L410.9,1557.5 L412.9,1557.5 L414.9,1557.7 L416.9,1558.2 L418.9,1558.8 L420.9,1559.6 L422.9,1560.5 L424.9,1561.5 L426.9,1562.6 L428.9,1563.8 L430.9,1565.0 L432.9,1566.3 L434.9,1567.6 L436.9,1568.8 L438.9,1570.0 L440.9,1571.1 L442.9,1572.1 L444.9,1573.0 L446.9,1573.7 L448.9,1574.3 L450.9,1574.7 L452.9,1574.9 L454.9,1574.8 L456.9,1574.6 L458.9,1574.1 L460.9,1573.4 L462.9,1572.6 L464.9,1571.7 L466.9,1570.6 L468.9,1569.5 L470.9,1568.3 L472.9,1567.0 L474.9,1565.8 L476.9,1564.5 L478.9,1563.3 L480.9,1562.1 L482.9,1561.0 L484.9,1560.1 L486.9,1559.2 L488.9,1558.5 L490.9,1558.0 L492.9,1557.6 L494.9,1557.5 L496.9,1557.6 L498.9,1557.9 L500.9,1558.5 L502.9,1559.2 L504.9,1560.0 L506.9,1561.0 L508.9,1562.1 L510.9,1563.3 L512.9,1564.5 L514.9,1565.7 L516.9,1567.0 L518.9,1568.2 L520.9,1569.4 L522.9,1570.6 L524.9,1571.6 L526.9,1572.6 L528.9,1573.4 L530.9,1574.1 L532.9,1574.5 L534.9,1574.8 L536.9,1574.9 L538.9,1574.7 L540.9,1574.3 L542.9,1573.7 L544.9,1573.0 L546.9,1572.1 L548.9,1571.1 L550.9,1570.0 L552.9,1568.8 L554.9,1567.6 L556.9,1566.3 L558.9,1565.1 L560.9,1563.9 L562.9,1562.7 L564.9,1561.5 L566.9,1560.5 L568.9,1559.6 L570.9,1558.8 L572.9,1558.2 L574.9,1557.8 L576.9,1557.5 L578.9,1557.5 L580.9,1557.8 L582.9,1558.2 L584.9,1558.8 L586.9,1559.6 L588.9,1560.5 L590.9,1561.6 L592.9,1562.7 L594.9,1563.9 L596.9,1565.1 L598.9,1566.4 L600.9,1567.6 L602.9,1568.9 L604.9,1570.0 L606.9,1571.1 L608.9,1572.2 L610.9,1573.0 L612.9,1573.8 L614.9,1574.3 L616.9,1574.7 L618.9,1574.9 L620.9,1574.8 L622.9,1574.5 L624.9,1574.0 L626.9,1573.4 L628.9,1572.5 L630.9,1571.6 L632.9,1570.5 L634.9,1569.4 L636.9,1568.2 L638.9,1566.9 L640.9,1565.7 L642.9,1564.4 L644.9,1563.2 L646.9,1562.0 L648.9,1561.0 L650.9,1560.0 L652.9,1559.2 L654.9,1558.5 L656.9,1557.9 L658.9,1557.6 L660.9,1557.5 L662.9,1557.6 L664.9,1558.0 L666.9,1558.5 L668.9,1559.2 L670.9,1560.1 L672.9,1561.1 L674.9,1562.2 L676.9,1563.3 L678.9,1564.6 L680.9,1565.8 L682.9,1567.1 L684.9,1568.3 L686.9,1569.5 L688.9,1570.6 L690.9,1571.7 L692.9,1572.6 L694.9,1573.5 L696.9,1574.1 L698.9,1574.6 L700.9,1574.8 L702.9,1574.9 L704.9,1574.7 L706.9,1574.3 L708.9,1573.7 L710.9,1572.9 L712.9,1572.0 L714.9,1571.0 L716.9,1569.9 L718.9,1568.7 L720.9,1567.5 L722.9,1566.3 L724.9,1565.0 L726.9,1563.8 L728.9,1562.6 L730.9,1561.5 L732.9,1560.4 L734.9,1559.5 L736.9,1558.8 L738.9,1558.2 L740.9,1557.7 L742.9,1557.5 L744.9,1557.5 L746.9,1557.8 L748.9,1558.2 L750.9,1558.9 L752.9,1559.7 L754.9,1560.6 L756.9,1561.7 L758.9,1562.8 L760.9,1564.0 L762.9,1565.2 L764.9,1566.5 L766.9,1567.7 L768.9,1569.0 L770.9,1570.1 L772.9,1571.2 L774.9,1572.2 L776.9,1573.1 L778.9,1573.8 L780.9,1574.4 L782.9,1574.7 L784.9,1574.9 L786.9,1574.8 L788.9,1574.5 L790.9,1574.0 L792.9,1573.3 L794.9,1572.5 L796.9,1571.5 L798.9,1570.4 L800.9,1569.3 L802.9,1568.1 L804.9,1566.8 L806.9,1565.6 L808.9,1564.3 L810.9,1563.1 L812.9,1562.0 L814.9,1560.9 L816.9,1559.9 L818.9,1559.1 L820.9,1558.4 L822.9,1557.9 L824.9,1557.6 L826.9,1557.5 L828.9,1557.6 L830.9,1558.0 L832.9,1558.6 L834.9,1559.3 L836.9,1560.2 L838.9,1561.2 L840.9,1562.3 L842.9,1563.4 L844.9,1564.6 L846.9,1565.9 L848.9,1567.2 L850.9,1568.4 L852.9,1569.6 L854.9,1570.7 L856.9,1571.8 L858.9,1572.7 L860.9,1573.5 L862.9,1574.1 L864.9,1574.6 L866.9,1574.9 L868.9,1574.9 L870.9,1574.7 L872.9,1574.3 L874.9,1573.7 L876.9,1572.9 L878.9,1572.0 L880.9,1571.0 L882.9,1569.8 L884.9,1568.7 L886.9,1567.4 L888.9,1566.2 L890.9,1564.9 L892.9,1563.7 L894.9,1562.5 L896.9,1561.4 L898.9,1560.4 L900.9,1559.5 L902.9,1558.7 L904.9,1558.1 L906.9,1557.7 L908.9,1557.5 L910.9,1557.6 L912.9,1557.8 L914.9,1558.3 L916.9,1558.9 L918.9,1559.7 L920.9,1560.7 L922.9,1561.7 L924.9,1562.9 L926.9,1564.1 L928.9,1565.3 L930.9,1566.6 L932.9,1567.8 L934.9,1569.0 L936.9,1570.2 L938.9,1571.3 L940.9,1572.3 L942.9,1573.1 L944.9,1573.9 L946.9,1574.4 L948.9,1574.8 L950.9,1574.9 L952.9,1574.8 L954.9,1574.5 L956.9,1574.0 L958.9,1573.3 L960.9,1572.4 L962.9,1571.4 L964.9,1570.4 L966.9,1569.2 L968.9,1568.0 L970.9,1566.8 L972.9,1565.5 L974.9,1564.2 L976.9,1563.0 L978.9,1561.9 L980.9,1560.8 L982.9,1559.9 L984.9,1559.0 L986.9,1558.4 L988.9,1557.9 L990.9,1557.6 L992.9,1557.5 L994.9,1557.7 L996.9,1558.0 L998.9,1558.6 L1000.9,1559.3 L1002.9,1560.2 L1004.9,1561.2 L1006.9,1562.3 L1008.9,1563.5 L1010.9,1564.7 L1012.9,1566.0 L1014.9,1567.2 L1016.9,1568.5 L1018.9,1569.7 L1020.9,1570.8 L1022.9,1571.8 L1024.9,1572.8 L1026.9,1573.6 L1028.9,1574.2 L1030.9,1574.6 L1032.9,1574.9 L1034.9,1574.9 L1036.9,1574.7 L1038.9,1574.2 L1040.9,1573.6 L1042.9,1572.8 L1044.9,1571.9 L1046.9,1570.9 L1048.9,1569.8 L1050.9,1568.6 L1052.9,1567.3 L1054.9,1566.1 L1056.9,1564.8 L1058.9,1563.6 L1060.9,1562.4 L1062.9,1561.3 L1064.9,1560.3 L1066.9,1559.4 L1068.9,1558.7 L1070.9,1558.1 L1072.9,1557.7 L1074.9,1557.5 L1076.9,1557.6 L1078.9,1557.8 L1080.9,1558.3 L1082.9,1559.0 L1084.9,1559.8 L1086.9,1560.8 L1088.9,1561.8 L1090.9,1563.0 L1092.9,1564.2 L1094.9,1565.4 L1096.9,1566.7 L1098.9,1567.9 L1100.9,1569.1 L1102.9,1570.3 L1104.9,1571.4 L1106.9,1572.3 L1108.9,1573.2 L1110.9,1573.9 L1112.9,1574.4 L1114.9,1574.8 L1116.9,1574.9 L1118.9,1574.8 L1120.9,1574.4 L1122.9,1573.9 L1124.9,1573.2 L1126.9,1572.4 L1128.9,1571.4 L1130.9,1570.3 L1132.9,1569.1 L1134.9,1567.9 L1136.9,1566.7 L1138.9,1565.4 L1140.9,1564.2 L1142.9,1563.0 L1144.9,1561.8 L1146.9,1560.8 L1148.9,1559.8 L1150.0,1559.3 L1150.5,1559.1 L1151.0,1559.0 L1151.5,1558.8 L1152.0,1558.6 L1152.5,1558.4 L1153.0,1558.3 L1153.5,1558.2 L1154.0,1558.0 L1154.5,1557.9 L1155.0,1557.8 L1155.5,1557.7 L1156.0,1557.7 L1156.5,1557.6 L1157.0,1557.6 L1157.5,1557.5 L1158.0,1557.5 L1158.5,1557.5 L1159.0,1557.5 L1159.5,1557.6 L1160.0,1557.7 L1160.5,1557.9 L1161.0,1558.0 L1161.5,1558.2 L1162.0,1558.4 L1162.5,1558.6 L1163.0,1558.8 L1163.5,1559.0 L1164.0,1559.2 L1164.5,1559.3 L1165.0,1559.4 L1165.5,1559.5 L1166.0,1559.5 L1166.5,1559.5 L1167.0,1559.4 L1167.5,1559.3 L1168.0,1559.1 L1168.5,1558.9 L1169.0,1558.6 L1169.5,1558.3 L1170.0,1558.0 L1170.5,1557.6 L1171.0,1557.3 L1171.5,1556.9 L1172.0,1556.5 L1172.5,1556.0 L1173.0,1555.4 L1173.5,1554.7 L1174.0,1553.8 L1174.5,1552.9 L1175.0,1551.9 L1175.5,1550.8 L1176.0,1549.7 L1176.5,1548.5 L1177.0,1547.3 L1177.5,1546.2 L1178.0,1545.0 L1178.5,1543.8 L1179.0,1542.6 L1179.5,1541.4 L1180.0,1540.0 L1180.5,1538.7 L1181.0,1537.3 L1181.5,1535.9 L1182.0,1534.4 L1182.5,1532.8 L1183.0,1531.3 L1183.5,1529.7 L1184.0,1528.0 L1184.5,1526.2 L1185.0,1524.4 L1185.5,1522.4 L1186.0,1520.3 L1186.5,1518.2 L1187.0,1516.1 L1187.5,1514.0 L1188.0,1512.0 L1188.5,1510.0 L1189.0,1508.1 L1189.5,1506.2 L1190.0,1504.4 L1190.5,1502.6 L1191.0,1500.7 L1191.5,1498.9 L1192.0,1497.1 L1192.5,1495.4 L1193.0,1493.6 L1193.5,1491.8 L1194.0,1490.0 L1194.5,1488.2 L1195.0,1486.4 L1195.5,1484.7 L1196.0,1482.9 L1196.5,1481.2 L1197.0,1479.4 L1197.5,1477.7 L1198.0,1475.9 L1198.5,1474.2 L1199.0,1472.4 L1199.5,1470.7 L1200.0,1469.0 L1200.5,1467.3 L1201.0,1465.6 L1201.5,1463.9 L1202.0,1462.3 L1202.5,1460.6 L1203.0,1459.0 L1203.5,1457.3 L1204.0,1455.5 L1204.5,1453.8 L1205.0,1451.9 L1205.5,1450.0 L1206.0,1448.0 L1206.5,1445.9 L1207.0,1443.8 L1207.5,1441.6 L1208.0,1439.4 L1208.5,1437.1 L1209.0,1434.7 L1209.5,1432.4 L1210.0,1430.0 L1210.5,1427.6 L1211.0,1425.2 L1211.5,1422.8 L1212.0,1420.4 L1212.5,1418.1 L1213.0,1415.7 L1213.5,1413.4 L1214.0,1411.1 L1214.5,1408.8 L1215.0,1406.4 L1215.5,1404.1 L1216.0,1401.8 L1216.5,1399.4 L1217.0,1397.1 L1217.5,1394.7 L1218.0,1392.4 L1218.5,1390.0 L1219.0,1387.6 L1219.5,1385.3 L1220.0,1382.9 L1220.5,1380.5 L1221.0,1378.0 L1221.5,1375.5 L1222.0,1372.8 L1222.5,1370.2 L1223.0,1367.6 L1223.5,1365.2 L1224.0,1362.9 L1224.5,1360.9 L1225.0,1359.1 L1225.5,1357.3 L1226.0,1355.6 L1226.5,1354.0 L1227.0,1352.4 L1227.5,1350.9 L1228.0,1349.4 L1228.5,1348.0 L1229.0,1346.6 L1229.5,1345.3 L1230.0,1344.0 L1230.5,1342.8 L1231.0,1341.6 L1231.5,1340.5 L1232.0,1339.4 L1232.5,1338.3 L1233.0,1337.3 L1233.5,1336.3 L1234.0,1335.3 L1234.5,1334.3 L1235.0,1333.3 L1235.5,1332.3 L1236.0,1331.4 L1236.5,1330.5 L1237.0,1329.6 L1237.5,1328.8 L1238.0,1328.0 L1238.5,1327.2 L1239.0,1326.5 L1239.5,1325.8 L1240.0,1325.2 L1240.5,1324.6 L1241.0,1324.0 L1241.5,1323.6 L1242.0,1323.1 L1242.5,1322.7 L1243.0,1322.3 L1243.5,1321.9 L1244.0,1321.5 L1244.5,1321.2 L1245.0,1320.8 L1245.5,1320.5 L1246.0,1320.1 L1246.5,1319.8 L1247.0,1319.6 L1247.5,1319.3 L1248.0,1319.1 L1248.5,1318.9 L1249.0,1318.8 L1249.5,1318.7 L1250.0,1318.6 L1250.5,1318.5 L1251.0,1318.5 L1251.5,1318.5 L1252.0,1318.4 L1252.5,1318.4 L1253.0,1318.3 L1253.5,1318.3 L1254.0,1318.3 L1254.5,1318.2 L1255.0,1318.2 L1255.5,1318.2 L1256.0,1318.1 L1256.5,1318.1 L1257.0,1318.1 L1257.5,1318.1 L1258.0,1318.0 L1258.5,1318.0 L1259.0,1318.0 L1259.5,1318.0 L1260.0,1318.0 L1260.5,1318.0 L1261.0,1318.0 L1261.5,1318.0 L1262.0,1318.0 L1262.5,1318.0 L1263.0,1318.0 L1263.5,1318.0 L1264.0,1318.0 L1264.5,1318.1 L1265.0,1318.1 L1265.5,1318.1 L1266.0,1318.1 L1266.5,1318.1 L1267.0,1318.2 L1267.5,1318.2 L1268.0,1318.2 L1268.5,1318.2 L1269.0,1318.3 L1269.5,1318.3 L1270.0,1318.3 L1270.5,1318.3 L1271.0,1318.4 L1271.5,1318.4 L1272.0,1318.4 L1272.5,1318.5 L1273.0,1318.5 L1273.5,1318.5 L1274.0,1318.6 L1274.5,1318.6 L1275.0,1318.6 L1275.5,1318.7 L1276.0,1318.7 L1276.5,1318.7 L1277.0,1318.7 L1277.5,1318.8 L1278.0,1318.8 L1278.5,1318.8 L1279.0,1318.8 L1279.5,1318.9 L1280.0,1318.9 L1280.5,1318.9 L1281.0,1318.9 L1281.5,1318.9 L1282.0,1319.0 L1282.5,1319.0 L1283.0,1319.0 L1283.5,1319.0 L1284.0,1319.0 L1284.5,1319.0 L1285.0,1319.0 L1285.5,1319.0 L1286.0,1319.0 L1286.5,1318.9 L1287.0,1318.9 L1287.5,1318.8 L1288.0,1318.7 L1288.5,1318.6 L1289.0,1318.5 L1289.5,1318.3 L1290.0,1318.2 L1290.5,1318.0 L1291.0,1317.9 L1291.5,1317.7 L1292.0,1317.5 L1292.5,1317.3 L1293.0,1317.1 L1293.5,1316.9 L1294.0,1316.6 L1294.5,1316.4 L1295.0,1316.1 L1295.5,1315.9 L1296.0,1315.6 L1296.5,1315.4 L1297.0,1315.1 L1297.5,1314.8 L1298.0,1314.6 L1298.5,1314.3 L1299.0,1314.0 L1299.5,1313.7 L1300.0,1313.4 L1302.0,1312.3 L1304.0,1311.1 L1306.0,1310.1 L1308.0,1309.1 L1310.0,1308.2 L1312.0,1307.5 L1314.0,1307.0 L1316.0,1306.7 L1318.0,1306.7 L1320.0,1307.0 L1322.0,1307.4 L1324.0,1308.1 L1326.0,1308.9 L1328.0,1309.8 L1330.0,1310.9 L1332.0,1312.1 L1334.0,1313.4 L1336.0,1314.8 L1338.0,1316.2 L1340.0,1317.6 L1342.0,1319.1 L1344.0,1320.5 L1346.0,1321.9 L1348.0,1323.2 L1350.0,1324.5 L1352.0,1325.7 L1354.0,1326.7 L1356.0,1327.6 L1358.0,1328.4 L1360.0,1329.0 L1362.0,1329.3 L1364.0,1329.5 L1366.0,1329.4 L1368.0,1329.1 L1370.0,1328.6 L1372.0,1327.9 L1374.0,1327.0 L1376.0,1326.0 L1378.0,1324.9 L1380.0,1323.8 L1382.0,1322.5 L1384.0,1321.3 L1386.0,1320.0 L1388.0,1318.8 L1390.0,1317.6 L1392.0,1316.5 L1394.0,1315.5 L1396.0,1314.7 L1398.0,1313.9 L1400.0,1313.4 L1402.0,1313.0 L1404.0,1312.9 L1406.0,1313.0 L1408.0,1313.4 L1410.0,1313.9 L1412.0,1314.6 L1414.0,1315.5 L1416.0,1316.5 L1418.0,1317.6 L1420.0,1318.8 L1422.0,1320.0 L1424.0,1321.3 L1426.0,1322.6 L1428.0,1323.8 L1430.0,1325.0 L1432.0,1326.2 L1434.0,1327.2 L1436.0,1328.2 L1438.0,1329.0 L1440.0,1329.6 L1442.0,1330.0 L1444.0,1330.3 L1446.0,1330.3 L1448.0,1330.0 L1450.0,1329.6 L1452.0,1329.0 L1454.0,1328.2 L1456.0,1327.3 L1458.0,1326.2 L1460.0,1325.1 L1462.0,1323.9 L1464.0,1322.6 L1466.0,1321.3 L1468.0,1320.0 L1470.0,1318.8 L1472.0,1317.6 L1474.0,1316.4 L1476.0,1315.3 L1478.0,1314.4 L1480.0,1313.6 L1482.0,1313.0 L1484.0,1312.5 L1486.0,1312.2 L1488.0,1312.2 L1490.0,1312.4 L1492.0,1312.8 L1494.0,1313.4 L1496.0,1314.2 L1498.0,1315.1 L1500.0,1316.1 L1502.0,1317.2 L1504.0,1318.3 L1506.0,1319.6 L1508.0,1320.8 L1510.0,1322.1 L1512.0,1323.3 L1514.0,1324.5 L1516.0,1325.6 L1518.0,1326.6 L1520.0,1327.6 L1522.0,1328.4 L1524.0,1329.0 L1526.0,1329.5 L1528.0,1329.7 L1530.0,1329.8 L1532.0,1329.6 L1534.0,1329.2 L1536.0,1328.5 L1538.0,1327.7 L1540.0,1326.8 L1542.0,1325.7 L1544.0,1324.5 L1546.0,1323.2 L1548.0,1321.9 L1550.0,1320.6 L1552.0,1319.2 L1554.0,1317.9 L1556.0,1316.7 L1558.0,1315.5 L1560.0,1314.4 L1562.0,1313.5 L1564.0,1312.7 L1566.0,1312.1 L1568.0,1311.7 L1570.0,1311.5 L1572.0,1311.6 L1574.0,1311.9 L1576.0,1312.4 L1578.0,1313.1 L1580.0,1314.0 L1582.0,1315.0 L1584.0,1316.1 L1586.0,1317.3 L1588.0,1318.6 L1590.0,1319.9 L1592.0,1321.2 L1594.0,1322.6 L1596.0,1323.9 L1598.0,1325.1 L1600.0,1326.3 L1602.0,1327.3 L1604.0,1328.3 L1606.0,1329.1 L1608.0,1329.7 L1610.0,1330.1 L1612.0,1330.3 L1614.0,1330.2 L1616.0,1329.9 L1618.0,1329.4 L1620.0,1328.7 L1622.0,1327.8 L1624.0,1326.7 L1626.0,1325.6 L1628.0,1324.3 L1630.0,1323.0 L1632.0,1321.7 L1634.0,1320.3 L1636.0,1318.9 L1638.0,1317.6 L1640.0,1316.3 L1642.0,1315.2 L1644.0,1314.1 L1646.0,1313.2 L1648.0,1312.5 L1650.0,1311.9 L1652.0,1311.6 L1654.0,1311.5 L1656.0,1311.7 L1658.0,1312.1 L1660.0,1312.7 L1662.0,1313.4 L1664.0,1314.4 L1666.0,1315.4 L1668.0,1316.6 L1670.0,1317.8 L1672.0,1319.1 L1674.0,1320.4 L1676.0,1321.7 L1678.0,1323.0 L1680.0,1324.3 L1682.0,1325.5 L1684.0,1326.7 L1686.0,1327.7 L1688.0,1328.6 L1690.0,1329.3 L1692.0,1329.9 L1694.0,1330.2 L1696.0,1330.3 L1698.0,1330.2 L1700.0,1329.8 L1702.0,1329.2 L1704.0,1328.4 L1706.0,1327.5 L1708.0,1326.5 L1710.0,1325.3 L1712.0,1324.1 L1714.0,1322.8 L1716.0,1321.5 L1718.0,1320.2 L1720.0,1318.9 L1722.0,1317.7 L1724.0,1316.5 L1726.0,1315.5 L1728.0,1314.6 L1730.0,1313.9 L1732.0,1313.3 L1734.0,1313.0 L1736.0,1312.9 L1738.0,1313.0 L1740.0,1313.4 L1742.0,1313.9 L1744.0,1314.7 L1746.0,1315.5 L1748.0,1316.5 L1750.0,1317.5 L1752.0,1318.7 L1754.0,1319.9 L1756.0,1321.1 L1758.0,1322.4 L1760.0,1323.6 L1762.0,1324.8 L1764.0,1326.0 L1766.0,1327.1 L1768.0,1328.1 L1770.0,1328.9 L1772.0,1329.7 L1774.0,1330.2 L1776.0,1330.6 L1778.0,1330.8 L1780.0,1330.7 L1782.0,1330.4 L1784.0,1329.9 L1786.0,1329.2 L1788.0,1328.3 L1790.0,1327.2 L1792.0,1326.1 L1794.0,1324.8 L1796.0,1323.5 L1798.0,1322.2 L1800.0,1320.8 L1802.0,1319.5 L1804.0,1318.2 L1806.0,1317.0 L1808.0,1315.9 L1810.0,1315.0 L1812.0,1314.1 L1814.0,1313.5 L1816.0,1313.1 L1818.0,1312.9 L1820.0,1313.0 L1822.0,1313.2 L1824.0,1313.7 L1826.0,1314.4 L1828.0,1315.1 L1830.0,1316.1 L1832.0,1317.1 L1834.0,1318.2 L1836.0,1319.3 L1838.0,1320.6 L1840.0,1321.8 L1842.0,1323.0 L1844.0,1324.2 L1846.0,1325.4 L1848.0,1326.5 L1850.0,1327.5 L1852.0,1328.5 L1854.0,1329.3 L1856.0,1329.9 L1858.0,1330.4 L1860.0,1330.7 L1862.0,1330.8 L1864.0,1330.6 L1866.0,1330.2 L1868.0,1329.6 L1870.0,1328.8 L1872.0,1327.9 L1874.0,1326.8 L1876.0,1325.6 L1878.0,1324.3 L1880.0,1323.0 L1882.0,1321.6 L1884.0,1320.3 L1886.0,1319.0 L1888.0,1317.7 L1890.0,1316.6 L1892.0,1315.5 L1894.0,1314.6 L1896.0,1313.9 L1898.0,1313.3 L1900.0,1313.0 L1902.0,1312.9 L1904.0,1313.1 L1906.0,1313.4 L1908.0,1314.0 L1910.0,1314.7 L1912.0,1315.6 L1914.0,1316.6 L1916.0,1317.7 L1918.0,1318.9 L1920.0,1320.1 L1922.0,1321.4 L1924.0,1322.6 L1926.0,1323.9 L1928.0,1325.2 L1930.0,1326.4 L1932.0,1327.5 L1934.0,1328.5 L1936.0,1329.4 L1938.0,1330.2 L1940.0,1330.8 L1942.0,1331.2 L1944.0,1331.5 L1946.0,1331.5 L1948.0,1331.2 L1950.0,1330.7 L1952.0,1330.0 L1954.0,1329.1 L1956.0,1328.0 L1958.0,1326.8 L1960.0,1325.6 L1962.0,1324.2 L1964.0,1322.8 L1966.0,1321.4 L1968.0,1320.0 L1970.0,1318.7 L1972.0,1317.4 L1974.0,1316.3 L1976.0,1315.2 L1978.0,1314.3 L1980.0,1313.6 L1982.0,1313.2 L1984.0,1312.9 L1986.0,1312.9 L1988.0,1313.2 L1990.0,1313.7 L1992.0,1314.3 L1994.0,1315.2 L1996.0,1316.1 L1998.0,1317.2 L2000.0,1318.4 L2002.0,1319.7 L2004.0,1320.9 L2006.0,1322.3 L2008.0,1323.6 L2010.0,1324.9 L2012.0,1326.1 L2014.0,1327.3 L2016.0,1328.4 L2018.0,1329.3 L2020.0,1330.1 L2022.0,1330.8 L2024.0,1331.2 L2026.0,1331.5 L2028.0,1331.5 L2030.0,1331.2 L2032.0,1330.7 L2034.0,1330.1 L2036.0,1329.2 L2038.0,1328.2 L2040.0,1327.1 L2042.0,1325.9 L2044.0,1324.6 L2046.0,1323.2 L2048.0,1321.9 L2050.0,1320.5 L2052.0,1319.2 L2054.0,1317.9 L2056.0,1316.7 L2058.0,1315.7 L2060.0,1314.7 L2062.0,1314.0 L2064.0,1313.4 L2066.0,1313.0 L2068.0,1312.9 L2070.0,1313.0 L2072.0,1313.4 L2074.0,1313.9 L2076.0,1314.7 L2078.0,1315.5 L2080.0,1316.6 L2082.0,1317.7 L2084.0,1318.9 L2086.0,1320.2 L2088.0,1321.5 L2090.0,1322.8 L2092.0,1324.1 L2094.0,1325.4 L2096.0,1326.6 L2098.0,1327.7 L2100.0,1328.8 L2102.0,1329.7 L2104.0,1330.4 L2106.0,1331.0 L2108.0,1331.4 L2110.0,1331.5 L2112.0,1331.4 L2114.0,1331.0 L2116.0,1330.5 L2118.0,1329.7 L2120.0,1328.7 L2122.0,1327.7 L2124.0,1326.5 L2126.0,1325.2 L2128.0,1323.9 L2130.0,1322.5 L2132.0,1321.2 L2134.0,1319.8 L2136.0,1318.5 L2138.0,1317.3 L2140.0,1316.3 L2142.0,1315.3 L2144.0,1314.5 L2146.0,1313.9 L2148.0,1313.5 L2150.0,1313.4 L2152.0,1313.5 L2154.0,1313.8 L2156.0,1314.3 L2158.0,1315.0 L2160.0,1315.8 L2162.0,1316.8 L2164.0,1317.8 L2166.0,1318.9 L2168.0,1320.1 L2170.0,1321.4 L2172.0,1322.6 L2174.0,1323.8 L2176.0,1325.1 L2178.0,1326.2 L2180.0,1327.4 L2182.0,1328.4 L2184.0,1329.3 L2186.0,1330.1 L2188.0,1330.7 L2190.0,1331.2 L2192.0,1331.4 L2194.0,1331.5 L2196.0,1331.3 L2198.0,1330.9 L2200.0,1330.2 L2202.0,1329.4 L2204.0,1328.4 L2206.0,1327.2 L2208.0,1326.0 L2210.0,1324.7 L2212.0,1323.4 L2214.0,1322.0 L2216.0,1320.6 L2218.0,1319.3 L2220.0,1318.1 L2222.0,1316.9 L2224.0,1315.9 L2226.0,1315.0 L2228.0,1314.3 L2230.0,1313.7 L2232.0,1313.4 L2234.0,1313.4 L2236.0,1313.7 L2238.0,1314.2 L2240.0,1314.9 L2242.0,1315.7 L2244.0,1316.7 L2246.0,1317.8 L2248.0,1318.9 L2250.0,1320.0 L2251.5,1320.8"/>
<path stroke="#46a905" d="M264.9,1562.0 L266.9,1561.0 L268.9,1559.9 L270.9,1558.9 L272.9,1557.8 L274.9,1556.8 L276.9,1555.8 L278.9,1554.9 L280.9,1554.0 L282.9,1553.3 L284.9,1552.6 L286.9,1552.1 L288.9,1551.8 L290.9,1551.6 L292.9,1551.6 L294.9,1551.9 L296.9,1552.3 L298.9,1552.8 L300.9,1553.5 L302.9,1554.3 L304.9,1555.1 L306.9,1556.1 L308.9,1557.1 L310.9,1558.1 L312.9,1559.2 L314.9,1560.2 L316.9,1561.3 L318.9,1562.3 L320.9,1563.2 L322.9,1564.0 L324.9,1564.7 L326.9,1565.3 L328.9,1565.8 L330.9,1566.1 L332.9,1566.2 L334.9,1566.1 L336.9,1565.8 L338.9,1565.4 L340.9,1564.8 L342.9,1564.1 L344.9,1563.3 L346.9,1562.4 L348.9,1561.4 L350.9,1560.4 L352.9,1559.4 L354.9,1558.3 L356.9,1557.3 L358.9,1556.3 L360.9,1555.3 L362.9,1554.4 L364.9,1553.6 L366.9,1552.9 L368.9,1552.3 L370.9,1551.9 L372.9,1551.7 L374.9,1551.6 L376.9,1551.7 L378.9,1552.1 L380.9,1552.5 L382.9,1553.1 L384.9,1553.9 L386.9,1554.7 L388.9,1555.6 L390.9,1556.6 L392.9,1557.7 L394.9,1558.7 L396.9,1559.8 L398.9,1560.8 L400.9,1561.8 L402.9,1562.8 L404.9,1563.6 L406.9,1564.4 L408.9,1565.1 L410.9,1565.6 L412.9,1566.0 L414.9,1566.2 L416.9,1566.2 L418.9,1566.0 L420.9,1565.6 L422.9,1565.1 L424.9,1564.5 L426.9,1563.7 L428.9,1562.8 L430.9,1561.9 L432.9,1560.9 L434.9,1559.9 L436.9,1558.8 L438.9,1557.8 L440.9,1556.7 L442.9,1555.7 L444.9,1554.8 L446.9,1554.0 L448.9,1553.2 L450.9,1552.6 L452.9,1552.1 L454.9,1551.8 L456.9,1551.6 L458.9,1551.7 L460.9,1551.9 L462.9,1552.3 L464.9,1552.8 L466.9,1553.5 L468.9,1554.3 L470.9,1555.2 L472.9,1556.2 L474.9,1557.2 L476.9,1558.2 L478.9,1559.3 L480.9,1560.3 L482.9,1561.3 L484.9,1562.3 L486.9,1563.2 L488.9,1564.1 L490.9,1564.8 L492.9,1565.4 L494.9,1565.8 L496.9,1566.1 L498.9,1566.2 L500.9,1566.1 L502.9,1565.8 L504.9,1565.4 L506.9,1564.8 L508.9,1564.1 L510.9,1563.3 L512.9,1562.3 L514.9,1561.4 L516.9,1560.3 L518.9,1559.3 L520.9,1558.2 L522.9,1557.2 L524.9,1556.2 L526.9,1555.2 L528.9,1554.3 L530.9,1553.5 L532.9,1552.9 L534.9,1552.3 L536.9,1551.9 L538.9,1551.7 L540.9,1551.6 L542.9,1551.8 L544.9,1552.1 L546.9,1552.6 L548.9,1553.2 L550.9,1553.9 L552.9,1554.8 L554.9,1555.7 L556.9,1556.7 L558.9,1557.7 L560.9,1558.8 L562.9,1559.8 L564.9,1560.9 L566.9,1561.9 L568.9,1562.8 L570.9,1563.7 L572.9,1564.5 L574.9,1565.1 L576.9,1565.6 L578.9,1566.0 L580.9,1566.2 L582.9,1566.2 L584.9,1566.0 L586.9,1565.6 L588.9,1565.1 L590.9,1564.4 L592.9,1563.6 L594.9,1562.8 L596.9,1561.8 L598.9,1560.8 L600.9,1559.8 L602.9,1558.7 L604.9,1557.7 L606.9,1556.7 L608.9,1555.7 L610.9,1554.7 L612.9,1553.9 L614.9,1553.2 L616.9,1552.5 L618.9,1552.1 L620.9,1551.7 L622.9,1551.6 L624.9,1551.7 L626.9,1551.9 L628.9,1552.3 L630.9,1552.9 L632.9,1553.6 L634.9,1554.4 L636.9,1555.3 L638.9,1556.2 L640.9,1557.2 L642.9,1558.3 L644.9,1559.3 L646.9,1560.4 L648.9,1561.4 L650.9,1562.4 L652.9,1563.3 L654.9,1564.1 L656.9,1564.8 L658.9,1565.4 L660.9,1565.8 L662.9,1566.1 L664.9,1566.2 L666.9,1566.1 L668.9,1565.8 L670.9,1565.3 L672.9,1564.7 L674.9,1564.0 L676.9,1563.2 L678.9,1562.3 L680.9,1561.3 L682.9,1560.3 L684.9,1559.2 L686.9,1558.2 L688.9,1557.1 L690.9,1556.1 L692.9,1555.2 L694.9,1554.3 L696.9,1553.5 L698.9,1552.8 L700.9,1552.3 L702.9,1551.9 L704.9,1551.6 L706.9,1551.6 L708.9,1551.8 L710.9,1552.1 L712.9,1552.6 L714.9,1553.2 L716.9,1554.0 L718.9,1554.8 L720.9,1555.8 L722.9,1556.8 L724.9,1557.8 L726.9,1558.9 L728.9,1559.9 L730.9,1560.9 L732.9,1561.9 L734.9,1562.9 L736.9,1563.7 L738.9,1564.5 L740.9,1565.1 L742.9,1565.7 L744.9,1566.0 L746.9,1566.2 L748.9,1566.2 L750.9,1566.0 L752.9,1565.6 L754.9,1565.0 L756.9,1564.4 L758.9,1563.6 L760.9,1562.7 L762.9,1561.8 L764.9,1560.8 L766.9,1559.7 L768.9,1558.7 L770.9,1557.6 L772.9,1556.6 L774.9,1555.6 L776.9,1554.7 L778.9,1553.8 L780.9,1553.1 L782.9,1552.5 L784.9,1552.0 L786.9,1551.7 L788.9,1551.6 L790.9,1551.7 L792.9,1551.9 L794.9,1552.4 L796.9,1552.9 L798.9,1553.6 L800.9,1554.4 L802.9,1555.3 L804.9,1556.3 L806.9,1557.3 L808.9,1558.4 L810.9,1559.4 L812.9,1560.5 L814.9,1561.5 L816.9,1562.5 L818.9,1563.3 L820.9,1564.2 L822.9,1564.9 L824.9,1565.4 L826.9,1565.9 L828.9,1566.1 L830.9,1566.2 L832.9,1566.1 L834.9,1565.8 L836.9,1565.3 L838.9,1564.7 L840.9,1564.0 L842.9,1563.1 L844.9,1562.2 L846.9,1561.2 L848.9,1560.2 L850.9,1559.2 L852.9,1558.1 L854.9,1557.1 L856.9,1556.1 L858.9,1555.1 L860.9,1554.2 L862.9,1553.4 L864.9,1552.8 L866.9,1552.2 L868.9,1551.8 L870.9,1551.6 L872.9,1551.6 L874.9,1551.8 L876.9,1552.1 L878.9,1552.6 L880.9,1553.3 L882.9,1554.1 L884.9,1554.9 L886.9,1555.8 L888.9,1556.8 L890.9,1557.9 L892.9,1558.9 L894.9,1560.0 L896.9,1561.0 L898.9,1562.0 L900.9,1562.9 L902.9,1563.8 L904.9,1564.6 L906.9,1565.2 L908.9,1565.7 L910.9,1566.0 L912.9,1566.2 L914.9,1566.2 L916.9,1565.9 L918.9,1565.5 L920.9,1565.0 L922.9,1564.3 L924.9,1563.5 L926.9,1562.6 L928.9,1561.7 L930.9,1560.7 L932.9,1559.6 L934.9,1558.6 L936.9,1557.5 L938.9,1556.5 L940.9,1555.5 L942.9,1554.6 L944.9,1553.8 L946.9,1553.1 L948.9,1552.5 L950.9,1552.0 L952.9,1551.7 L954.9,1551.6 L956.9,1551.7 L958.9,1552.0 L960.9,1552.4 L962.9,1553.0 L964.9,1553.7 L966.9,1554.5 L968.9,1555.4 L970.9,1556.4 L972.9,1557.4 L974.9,1558.4 L976.9,1559.5 L978.9,1560.5 L980.9,1561.6 L982.9,1562.5 L984.9,1563.4 L986.9,1564.2 L988.9,1564.9 L990.9,1565.5 L992.9,1565.9 L994.9,1566.1 L996.9,1566.2 L998.9,1566.1 L1000.9,1565.7 L1002.9,1565.3 L1004.9,1564.6 L1006.9,1563.9 L1008.9,1563.1 L1010.9,1562.1 L1012.9,1561.2 L1014.9,1560.1 L1016.9,1559.1 L1018.9,1558.0 L1020.9,1557.0 L1022.9,1556.0 L1024.9,1555.0 L1026.9,1554.2 L1028.9,1553.4 L1030.9,1552.7 L1032.9,1552.2 L1034.9,1551.8 L1036.9,1551.6 L1038.9,1551.6 L1040.9,1551.8 L1042.9,1552.2 L1044.9,1552.7 L1046.9,1553.3 L1048.9,1554.1 L1050.9,1555.0 L1052.9,1555.9 L1054.9,1556.9 L1056.9,1558.0 L1058.9,1559.0 L1060.9,1560.1 L1062.9,1561.1 L1064.9,1562.1 L1066.9,1563.0 L1068.9,1563.9 L1070.9,1564.6 L1072.9,1565.2 L1074.9,1565.7 L1076.9,1566.0 L1078.9,1566.2 L1080.9,1566.1 L1082.9,1565.9 L1084.9,1565.5 L1086.9,1565.0 L1088.9,1564.3 L1090.9,1563.5 L1092.9,1562.6 L1094.9,1561.6 L1096.9,1560.6 L1098.9,1559.6 L1100.9,1558.5 L1102.9,1557.5 L1104.9,1556.4 L1106.9,1555.5 L1108.9,1554.6 L1110.9,1553.7 L1112.9,1553.0 L1114.9,1552.4 L1116.9,1552.0 L1118.9,1551.7 L1120.9,1551.6 L1122.9,1551.7 L1124.9,1552.0 L1126.9,1552.5 L1128.9,1553.2 L1130.9,1554.0 L1132.9,1554.9 L1134.9,1555.8 L1136.9,1556.9 L1138.9,1558.0 L1140.9,1559.1 L1142.9,1560.2 L1144.9,1561.2 L1146.9,1562.2 L1148.9,1563.2 L1150.0,1563.6 L1150.5,1563.8 L1151.0,1564.0 L1151.5,1564.2 L1152.0,1564.4 L1152.5,1564.6 L1153.0,1564.7 L1153.5,1564.9 L1154.0,1565.0 L1154.5,1565.1 L1155.0,1565.3 L1155.5,1565.4 L1156.0,1565.5 L1156.5,1565.6 L1157.0,1565.6 L1157.5,1565.7 L1158.0,1565.7 L1158.5,1565.8 L1159.0,1565.8 L1159.5,1565.8 L1160.0,1565.8 L1160.5,1565.7 L1161.0,1565.7 L1161.5,1565.5 L1162.0,1565.4 L1162.5,1565.2 L1163.0,1565.0 L1163.5,1564.8 L1164.0,1564.6 L1164.5,1564.4 L1165.0,1564.1 L1165.5,1563.8 L1166.0,1563.5 L1166.5,1563.1 L1167.0,1562.5 L1167.5,1561.7 L1168.0,1560.9 L1168.5,1559.9 L1169.0,1558.9 L1169.5,1557.9 L1170.0,1556.9 L1170.5,1556.0 L1171.0,1555.1 L1171.5,1554.3 L1172.0,1553.5 L1172.5,1552.6 L1173.0,1551.8 L1173.5,1550.9 L1174.0,1550.1 L1174.5,1549.2 L1175.0,1548.3 L1175.5,1547.3 L1176.0,1546.3 L1176.5,1545.2 L1177.0,1544.1 L1177.5,1542.9 L1178.0,1541.6 L1178.5,1540.3 L1179.0,1538.9 L1179.5,1537.4 L1180.0,1535.9 L1180.5,1534.4 L1181.0,1532.8 L1181.5,1531.2 L1182.0,1529.7 L1182.5,1528.1 L1183.0,1526.5 L1183.5,1525.0 L1184.0,1523.5 L1184.5,1522.0 L1185.0,1520.6 L1185.5,1519.2 L1186.0,1517.8 L1186.5,1516.5 L1187.0,1515.2 L1187.5,1513.9 L1188.0,1512.6 L1188.5,1511.3 L1189.0,1510.0 L1189.5,1508.7 L1190.0,1507.4 L1190.5,1506.1 L1191.0,1504.9 L1191.5,1503.6 L1192.0,1502.3 L1192.5,1501.0 L1193.0,1499.7 L1193.5,1498.5 L1194.0,1497.2 L1194.5,1495.9 L1195.0,1494.7 L1195.5,1493.4 L1196.0,1492.2 L1196.5,1490.9 L1197.0,1489.7 L1197.5,1488.5 L1198.0,1487.2 L1198.5,1486.0 L1199.0,1484.8 L1199.5,1483.6 L1200.0,1482.4 L1200.5,1481.2 L1201.0,1480.0 L1201.5,1478.9 L1202.0,1477.7 L1202.5,1476.6 L1203.0,1475.4 L1203.5,1474.3 L1204.0,1473.1 L1204.5,1471.9 L1205.0,1470.8 L1205.5,1469.6 L1206.0,1468.4 L1206.5,1467.2 L1207.0,1466.0 L1207.5,1464.7 L1208.0,1463.4 L1208.5,1462.1 L1209.0,1460.7 L1209.5,1459.3 L1210.0,1457.9 L1210.5,1456.5 L1211.0,1455.1 L1211.5,1453.8 L1212.0,1452.5 L1212.5,1451.3 L1213.0,1450.2 L1213.5,1449.1 L1214.0,1448.2 L1214.5,1447.3 L1215.0,1446.5 L1215.5,1445.7 L1216.0,1444.9 L1216.5,1444.2 L1217.0,1443.4 L1217.5,1442.8 L1218.0,1442.1 L1218.5,1441.4 L1219.0,1440.8 L1219.5,1440.2 L1220.0,1439.6 L1220.5,1439.0 L1221.0,1438.5 L1221.5,1438.0 L1222.0,1437.4 L1222.5,1436.9 L1223.0,1436.4 L1223.5,1436.0 L1224.0,1435.5 L1224.5,1435.1 L1225.0,1434.6 L1225.5,1434.2 L1226.0,1433.8 L1226.5,1433.4 L1227.0,1433.0 L1227.5,1432.7 L1228.0,1432.3 L1228.5,1431.9 L1229.0,1431.6 L1229.5,1431.3 L1230.0,1430.9 L1230.5,1430.6 L1231.0,1430.3 L1231.5,1430.0 L1232.0,1429.6 L1232.5,1429.3 L1233.0,1429.0 L1233.5,1428.7 L1234.0,1428.4 L1234.5,1428.0 L1235.0,1427.7 L1235.5,1427.3 L1236.0,1427.0 L1236.5,1426.6 L1237.0,1426.3 L1237.5,1425.9 L1238.0,1425.6 L1238.5,1425.2 L1239.0,1424.8 L1239.5,1424.4 L1240.0,1424.1 L1240.5,1423.7 L1241.0,1423.3 L1241.5,1422.9 L1242.0,1422.5 L1242.5,1422.1 L1243.0,1421.7 L1243.5,1421.4 L1244.0,1421.0 L1244.5,1420.6 L1245.0,1420.2 L1245.5,1419.8 L1246.0,1419.4 L1246.5,1419.0 L1247.0,1418.6 L1247.5,1418.1 L1248.0,1417.7 L1248.5,1417.3 L1249.0,1416.9 L1249.5,1416.4 L1250.0,1416.0 L1250.5,1415.5 L1251.0,1415.1 L1251.5,1414.6 L1252.0,1414.1 L1252.5,1413.6 L1253.0,1413.1 L1253.5,1412.5 L1254.0,1411.9 L1254.5,1411.4 L1255.0,1410.8 L1255.5,1410.1 L1256.0,1409.5 L1256.5,1408.9 L1257.0,1408.3 L1257.5,1407.7 L1258.0,1407.0 L1258.5,1406.4 L1259.0,1405.8 L1259.5,1405.2 L1260.0,1404.7 L1260.5,1404.1 L1261.0,1403.6 L1261.5,1403.1 L1262.0,1402.6 L1262.5,1402.1 L1263.0,1401.5 L1263.5,1401.0 L1264.0,1400.6 L1264.5,1400.1 L1265.0,1399.6 L1265.5,1399.2 L1266.0,1398.8 L1266.5,1398.4 L1267.0,1398.0 L1267.5,1397.6 L1268.0,1397.3 L1268.5,1397.0 L1269.0,1396.6 L1269.5,1396.3 L1270.0,1396.0 L1270.5,1395.7 L1271.0,1395.4 L1271.5,1395.1 L1272.0,1394.8 L1272.5,1394.6 L1273.0,1394.4 L1273.5,1394.2 L1274.0,1394.0 L1274.5,1393.8 L1275.0,1393.7 L1275.5,1393.5 L1276.0,1393.3 L1276.5,1393.2 L1277.0,1393.0 L1277.5,1392.9 L1278.0,1392.7 L1278.5,1392.6 L1279.0,1392.4 L1279.5,1392.3 L1280.0,1392.2 L1280.5,1392.0 L1281.0,1391.9 L1281.5,1391.8 L1282.0,1391.8 L1282.5,1391.7 L1283.0,1391.6 L1283.5,1391.6 L1284.0,1391.5 L1284.5,1391.5 L1285.0,1391.5 L1285.5,1391.5 L1286.0,1391.5 L1286.5,1391.6 L1287.0,1391.6 L1287.5,1391.7 L1288.0,1391.7 L1288.5,1391.8 L1289.0,1391.9 L1289.5,1392.0 L1290.0,1392.1 L1290.5,1392.3 L1291.0,1392.4 L1291.5,1392.5 L1292.0,1392.7 L1292.5,1392.8 L1293.0,1393.0 L1293.5,1393.2 L1294.0,1393.4 L1294.5,1393.6 L1295.0,1393.8 L1295.5,1394.0 L1296.0,1394.2 L1296.5,1394.4 L1297.0,1394.7 L1297.5,1394.9 L1298.0,1395.1 L1298.5,1395.4 L1299.0,1395.6 L1299.5,1395.9 L1300.0,1396.2 L1302.0,1397.2 L1304.0,1398.4 L1306.0,1399.5 L1308.0,1400.6 L1310.0,1401.8 L1312.0,1402.8 L1314.0,1403.9 L1316.0,1404.8 L1318.0,1405.6 L1320.0,1406.3 L1322.0,1406.9 L1324.0,1407.3 L1326.0,1407.5 L1328.0,1407.5 L1330.0,1407.2 L1332.0,1406.8 L1334.0,1406.2 L1336.0,1405.4 L1338.0,1404.5 L1340.0,1403.5 L1342.0,1402.4 L1344.0,1401.3 L1346.0,1400.1 L1348.0,1398.9 L1350.0,1397.7 L1352.0,1396.6 L1354.0,1395.5 L1356.0,1394.5 L1358.0,1393.6 L1360.0,1392.8 L1362.0,1392.2 L1364.0,1391.8 L1366.0,1391.5 L1368.0,1391.5 L1370.0,1391.7 L1372.0,1392.1 L1374.0,1392.7 L1376.0,1393.4 L1378.0,1394.2 L1380.0,1395.1 L1382.0,1396.2 L1384.0,1397.3 L1386.0,1398.4 L1388.0,1399.6 L1390.0,1400.7 L1392.0,1401.9 L1394.0,1403.0 L1396.0,1404.1 L1398.0,1405.1 L1400.0,1406.0 L1402.0,1406.8 L1404.0,1407.5 L1406.0,1408.0 L1408.0,1408.3 L1410.0,1408.5 L1412.0,1408.4 L1414.0,1408.1 L1416.0,1407.6 L1418.0,1406.9 L1420.0,1406.1 L1422.0,1405.1 L1424.0,1404.0 L1426.0,1402.8 L1428.0,1401.5 L1430.0,1400.2 L1432.0,1398.9 L1434.0,1397.7 L1436.0,1396.4 L1438.0,1395.3 L1440.0,1394.2 L1442.0,1393.2 L1444.0,1392.4 L1446.0,1391.7 L1448.0,1391.3 L1450.0,1391.0 L1452.0,1391.0 L1454.0,1391.2 L1456.0,1391.7 L1458.0,1392.2 L1460.0,1393.0 L1462.0,1393.8 L1464.0,1394.8 L1466.0,1395.9 L1468.0,1397.0 L1470.0,1398.2 L1472.0,1399.4 L1474.0,1400.6 L1476.0,1401.7 L1478.0,1402.9 L1480.0,1403.9 L1482.0,1404.9 L1484.0,1405.8 L1486.0,1406.6 L1488.0,1407.2 L1490.0,1407.6 L1492.0,1407.9 L1494.0,1407.9 L1496.0,1407.7 L1498.0,1407.2 L1500.0,1406.6 L1502.0,1405.8 L1504.0,1404.8 L1506.0,1403.8 L1508.0,1402.6 L1510.0,1401.3 L1512.0,1400.0 L1514.0,1398.7 L1516.0,1397.4 L1518.0,1396.1 L1520.0,1394.9 L1522.0,1393.7 L1524.0,1392.7 L1526.0,1391.7 L1528.0,1391.0 L1530.0,1390.4 L1532.0,1390.0 L1534.0,1389.8 L1536.0,1389.9 L1538.0,1390.2 L1540.0,1390.6 L1542.0,1391.2 L1544.0,1392.0 L1546.0,1392.8 L1548.0,1393.8 L1550.0,1394.9 L1552.0,1396.0 L1554.0,1397.1 L1556.0,1398.2 L1558.0,1399.4 L1560.0,1400.5 L1562.0,1401.6 L1564.0,1402.6 L1566.0,1403.5 L1568.0,1404.3 L1570.0,1405.0 L1572.0,1405.5 L1574.0,1405.8 L1576.0,1406.0 L1578.0,1405.9 L1580.0,1405.6 L1582.0,1405.1 L1584.0,1404.4 L1586.0,1403.6 L1588.0,1402.6 L1590.0,1401.5 L1592.0,1400.3 L1594.0,1399.0 L1596.0,1397.7 L1598.0,1396.4 L1600.0,1395.1 L1602.0,1393.8 L1604.0,1392.6 L1606.0,1391.5 L1608.0,1390.5 L1610.0,1389.7 L1612.0,1389.0 L1614.0,1388.5 L1616.0,1388.2 L1618.0,1388.1 L1620.0,1388.3 L1622.0,1388.7 L1624.0,1389.2 L1626.0,1390.0 L1628.0,1390.9 L1630.0,1391.9 L1632.0,1393.0 L1634.0,1394.2 L1636.0,1395.4 L1638.0,1396.7 L1640.0,1397.9 L1642.0,1399.2 L1644.0,1400.4 L1646.0,1401.6 L1648.0,1402.6 L1650.0,1403.6 L1652.0,1404.4 L1654.0,1405.1 L1656.0,1405.6 L1658.0,1405.9 L1660.0,1406.0 L1662.0,1405.8 L1664.0,1405.4 L1666.0,1404.8 L1668.0,1404.0 L1670.0,1403.1 L1672.0,1402.0 L1674.0,1400.8 L1676.0,1399.5 L1678.0,1398.2 L1680.0,1396.8 L1682.0,1395.5 L1684.0,1394.1 L1686.0,1392.9 L1688.0,1391.6 L1690.0,1390.5 L1692.0,1389.6 L1694.0,1388.7 L1696.0,1388.1 L1698.0,1387.6 L1700.0,1387.4 L1702.0,1387.4 L1704.0,1387.7 L1706.0,1388.2 L1708.0,1388.8 L1710.0,1389.6 L1712.0,1390.5 L1714.0,1391.6 L1716.0,1392.7 L1718.0,1393.9 L1720.0,1395.1 L1722.0,1396.3 L1724.0,1397.6 L1726.0,1398.8 L1728.0,1399.9 L1730.0,1401.0 L1732.0,1401.9 L1734.0,1402.7 L1736.0,1403.4 L1738.0,1403.9 L1740.0,1404.2 L1742.0,1404.3 L1744.0,1404.1 L1746.0,1403.7 L1748.0,1403.2 L1750.0,1402.4 L1752.0,1401.5 L1754.0,1400.4 L1756.0,1399.3 L1758.0,1398.0 L1760.0,1396.8 L1762.0,1395.5 L1764.0,1394.2 L1766.0,1392.9 L1768.0,1391.7 L1770.0,1390.5 L1772.0,1389.5 L1774.0,1388.6 L1776.0,1387.8 L1778.0,1387.2 L1780.0,1386.9 L1782.0,1386.7 L1784.0,1386.8 L1786.0,1387.1 L1788.0,1387.6 L1790.0,1388.3 L1792.0,1389.1 L1794.0,1390.1 L1796.0,1391.1 L1798.0,1392.3 L1800.0,1393.5 L1802.0,1394.7 L1804.0,1395.9 L1806.0,1397.2 L1808.0,1398.4 L1810.0,1399.6 L1812.0,1400.6 L1814.0,1401.6 L1816.0,1402.5 L1818.0,1403.2 L1820.0,1403.8 L1822.0,1404.1 L1824.0,1404.3 L1826.0,1404.2 L1828.0,1403.9 L1830.0,1403.4 L1832.0,1402.7 L1834.0,1401.8 L1836.0,1400.8 L1838.0,1399.6 L1840.0,1398.4 L1842.0,1397.2 L1844.0,1395.8 L1846.0,1394.5 L1848.0,1393.2 L1850.0,1391.9 L1852.0,1390.7 L1854.0,1389.6 L1856.0,1388.6 L1858.0,1387.8 L1860.0,1387.1 L1862.0,1386.6 L1864.0,1386.3 L1866.0,1386.2 L1868.0,1386.4 L1870.0,1386.8 L1872.0,1387.4 L1874.0,1388.1 L1876.0,1389.1 L1878.0,1390.1 L1880.0,1391.2 L1882.0,1392.4 L1884.0,1393.6 L1886.0,1394.9 L1888.0,1396.2 L1890.0,1397.5 L1892.0,1398.7 L1894.0,1399.9 L1896.0,1400.9 L1898.0,1401.9 L1900.0,1402.8 L1902.0,1403.4 L1904.0,1403.9 L1906.0,1404.2 L1908.0,1404.3 L1910.0,1404.1 L1912.0,1403.7 L1914.0,1403.1 L1916.0,1402.3 L1918.0,1401.4 L1920.0,1400.3 L1922.0,1399.2 L1924.0,1397.9 L1926.0,1396.6 L1928.0,1395.3 L1930.0,1394.0 L1932.0,1392.7 L1934.0,1391.5 L1936.0,1390.3 L1938.0,1389.2 L1940.0,1388.3 L1942.0,1387.5 L1944.0,1386.8 L1946.0,1386.4 L1948.0,1386.2 L1950.0,1386.3 L1952.0,1386.5 L1954.0,1387.0 L1956.0,1387.7 L1958.0,1388.5 L1960.0,1389.4 L1962.0,1390.5 L1964.0,1391.7 L1966.0,1392.9 L1968.0,1394.2 L1970.0,1395.4 L1972.0,1396.7 L1974.0,1398.0 L1976.0,1399.2 L1978.0,1400.3 L1980.0,1401.4 L1982.0,1402.3 L1984.0,1403.0 L1986.0,1403.7 L1988.0,1404.1 L1990.0,1404.3 L1992.0,1404.3 L1994.0,1404.0 L1996.0,1403.5 L1998.0,1402.8 L2000.0,1402.0 L2002.0,1401.0 L2004.0,1399.9 L2006.0,1398.7 L2008.0,1397.4 L2010.0,1396.1 L2012.0,1394.8 L2014.0,1393.5 L2016.0,1392.2 L2018.0,1391.0 L2020.0,1389.8 L2022.0,1388.8 L2024.0,1387.9 L2026.0,1387.2 L2028.0,1386.6 L2030.0,1386.3 L2032.0,1386.2 L2034.0,1386.3 L2036.0,1386.7 L2038.0,1387.2 L2040.0,1387.9 L2042.0,1388.7 L2044.0,1389.7 L2046.0,1390.7 L2048.0,1391.9 L2050.0,1393.1 L2052.0,1394.3 L2054.0,1395.5 L2056.0,1396.7 L2058.0,1397.9 L2060.0,1399.0 L2062.0,1400.1 L2064.0,1401.0 L2066.0,1401.8 L2068.0,1402.5 L2070.0,1403.0 L2072.0,1403.4 L2074.0,1403.5 L2076.0,1403.4 L2078.0,1403.1 L2080.0,1402.5 L2082.0,1401.8 L2084.0,1401.0 L2086.0,1400.0 L2088.0,1398.9 L2090.0,1397.7 L2092.0,1396.5 L2094.0,1395.2 L2096.0,1394.0 L2098.0,1392.7 L2100.0,1391.5 L2102.0,1390.4 L2104.0,1389.3 L2106.0,1388.4 L2108.0,1387.6 L2110.0,1386.9 L2112.0,1386.5 L2114.0,1386.2 L2116.0,1386.2 L2118.0,1386.4 L2120.0,1386.8 L2122.0,1387.4 L2124.0,1388.2 L2126.0,1389.1 L2128.0,1390.1 L2130.0,1391.1 L2132.0,1392.3 L2134.0,1393.5 L2136.0,1394.7 L2138.0,1396.0 L2140.0,1397.2 L2142.0,1398.3 L2144.0,1399.4 L2146.0,1400.4 L2148.0,1401.3 L2150.0,1402.1 L2152.0,1402.7 L2154.0,1403.2 L2156.0,1403.5 L2158.0,1403.5 L2160.0,1403.3 L2162.0,1402.8 L2164.0,1402.2 L2166.0,1401.4 L2168.0,1400.4 L2170.0,1399.3 L2172.0,1398.2 L2174.0,1396.9 L2176.0,1395.6 L2178.0,1394.3 L2180.0,1393.0 L2182.0,1391.8 L2184.0,1390.6 L2186.0,1389.5 L2188.0,1388.5 L2190.0,1387.7 L2192.0,1387.0 L2194.0,1386.5 L2196.0,1386.2 L2198.0,1386.2 L2200.0,1386.4 L2202.0,1386.8 L2204.0,1387.4 L2206.0,1388.1 L2208.0,1388.9 L2210.0,1389.9 L2212.0,1390.9 L2214.0,1392.0 L2216.0,1393.2 L2218.0,1394.4 L2220.0,1395.6 L2222.0,1396.7 L2224.0,1397.9 L2226.0,1399.0 L2228.0,1400.0 L2230.0,1401.0 L2232.0,1401.8 L2234.0,1402.5 L2236.0,1403.0 L2238.0,1403.3 L2240.0,1403.5 L2242.0,1403.4 L2244.0,1403.0 L2246.0,1402.4 L2248.0,1401.6 L2250.0,1400.6 L2251.5,1399.9"/>
</g>
<text class="tk" transform="translate(264.5,1743.4) scale(1,1.065)" text-anchor="middle">1.34</text>
<text class="tk" transform="translate(513.4,1743.4) scale(1,1.065)" text-anchor="middle">1.345</text>
<text class="tk" transform="translate(762.8,1743.4) scale(1,1.065)" text-anchor="middle">1.35</text>
<text class="tk" transform="translate(1012.4,1743.4) scale(1,1.065)" text-anchor="middle">1.355</text>
<text class="tk" transform="translate(1261.7,1743.4) scale(1,1.065)" text-anchor="middle">1.36</text>
<text class="tk" transform="translate(1508.0,1743.4) scale(1,1.065)" text-anchor="middle">1.365</text>
<text class="tk" transform="translate(1757.3,1743.4) scale(1,1.065)" text-anchor="middle">1.37</text>
<text class="tk" transform="translate(2004.7,1743.4) scale(1,1.065)" text-anchor="middle">1.375</text>
<text class="tk" transform="translate(2253.0,1743.4) scale(1,1.065)" text-anchor="middle">1.38</text>
<text class="tk" transform="translate(240,112.7) scale(1,1.065)" text-anchor="end">2020</text>
<text class="tk" transform="translate(240,373.2) scale(1,1.065)" text-anchor="end">2000</text>
<text class="tk" transform="translate(240,634.6) scale(1,1.065)" text-anchor="end">1980</text>
<text class="tk" transform="translate(240,898.7) scale(1,1.065)" text-anchor="end">1960</text>
<text class="tk" transform="translate(240,1159.2) scale(1,1.065)" text-anchor="end">1940</text>
<text class="tk" transform="translate(240,1421.1) scale(1,1.065)" text-anchor="end">1920</text>
<text class="tk" transform="translate(240,1681.3) scale(1,1.065)" text-anchor="end">1900</text>
<text class="lb" transform="translate(1259.5,62.0) scale(1,1.04)" text-anchor="middle" style="fill:#000;font-size:67.8px;stroke-width:0.5px">Temperature Change</text>
<text class="lb" transform="translate(1259.5,1833.8) scale(1,1.04)" text-anchor="middle">Time (s)</text>
<text class="lb" transform="translate(65.7,875.6) rotate(-90) scale(1,1.04)" text-anchor="middle">Resistance (Ω)</text>
<rect x="315.8" y="137.1" width="367.6" height="459.9" fill="#fff" stroke="#262626" stroke-width="3.1"/>
<path d="M333,186.7 H516" stroke="#ff0000" stroke-width="9.3" fill="none"/>
<text class="lg" transform="translate(528.3,218.2) scale(1,1.065)">65</text>
<text class="dg" transform="translate(616.8,199.0) scale(1,1.065)" text-anchor="middle">°</text>
<text class="lg" transform="translate(625.3,218.2) scale(1,1.065)">C</text>
<path d="M333,277.3 H516" stroke="#ff4800" stroke-width="9.3" fill="none"/>
<text class="lg" transform="translate(528.3,307.8) scale(1,1.065)">50</text>
<text class="dg" transform="translate(616.8,288.6) scale(1,1.065)" text-anchor="middle">°</text>
<text class="lg" transform="translate(625.3,307.8) scale(1,1.065)">C</text>
<path d="M333,368.4 H516" stroke="#ffae00" stroke-width="9.3" fill="none"/>
<text class="lg" transform="translate(528.3,397.3) scale(1,1.065)">40</text>
<text class="dg" transform="translate(616.8,378.1) scale(1,1.065)" text-anchor="middle">°</text>
<text class="lg" transform="translate(625.3,397.3) scale(1,1.065)">C</text>
<path d="M333,456.6 H516" stroke="#8c1b94" stroke-width="9.3" fill="none"/>
<text class="lg" transform="translate(528.3,486.8) scale(1,1.065)">35</text>
<text class="dg" transform="translate(616.8,467.6) scale(1,1.065)" text-anchor="middle">°</text>
<text class="lg" transform="translate(625.3,486.8) scale(1,1.065)">C</text>
<path d="M333,547.6 H516" stroke="#46a905" stroke-width="9.3" fill="none"/>
<text class="lg" transform="translate(528.3,576.4) scale(1,1.065)">30</text>
<text class="dg" transform="translate(616.8,557.2) scale(1,1.065)" text-anchor="middle">°</text>
<text class="lg" transform="translate(625.3,576.4) scale(1,1.065)">C</text>
</g>
</svg>
</body></html>
